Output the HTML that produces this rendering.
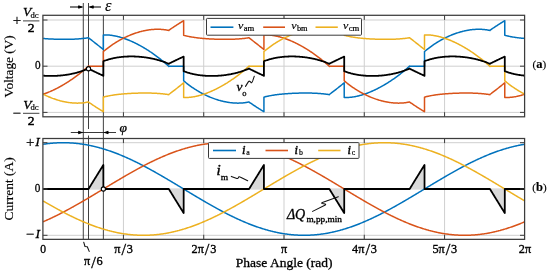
<!DOCTYPE html>
<html><head><meta charset="utf-8"><style>
html,body{margin:0;padding:0;background:#fff;}
body{width:550px;height:274px;overflow:hidden;position:relative;}
svg{position:absolute;left:0;top:0;}
</style></head><body>
<svg width="550" height="274" viewBox="0 0 550 274">
<rect width="550" height="274" fill="#fff"/>
<line x1="123.43" y1="15.30" x2="123.43" y2="116.80" stroke="#cfcfcf" stroke-width="1"/>
<line x1="203.72" y1="15.30" x2="203.72" y2="116.80" stroke="#cfcfcf" stroke-width="1"/>
<line x1="284.00" y1="15.30" x2="284.00" y2="116.80" stroke="#cfcfcf" stroke-width="1"/>
<line x1="364.28" y1="15.30" x2="364.28" y2="116.80" stroke="#cfcfcf" stroke-width="1"/>
<line x1="444.57" y1="15.30" x2="444.57" y2="116.80" stroke="#cfcfcf" stroke-width="1"/>
<line x1="42.90" y1="20.00" x2="524.60" y2="20.00" stroke="#cfcfcf" stroke-width="1"/>
<line x1="42.90" y1="66.20" x2="524.60" y2="66.20" stroke="#cfcfcf" stroke-width="1"/>
<line x1="42.90" y1="112.40" x2="524.60" y2="112.40" stroke="#cfcfcf" stroke-width="1"/>
<line x1="123.43" y1="138.50" x2="123.43" y2="239.35" stroke="#cfcfcf" stroke-width="1"/>
<line x1="203.72" y1="138.50" x2="203.72" y2="239.35" stroke="#cfcfcf" stroke-width="1"/>
<line x1="284.00" y1="138.50" x2="284.00" y2="239.35" stroke="#cfcfcf" stroke-width="1"/>
<line x1="364.28" y1="138.50" x2="364.28" y2="239.35" stroke="#cfcfcf" stroke-width="1"/>
<line x1="444.57" y1="138.50" x2="444.57" y2="239.35" stroke="#cfcfcf" stroke-width="1"/>
<line x1="42.90" y1="142.70" x2="524.60" y2="142.70" stroke="#cfcfcf" stroke-width="1"/>
<line x1="42.90" y1="189.00" x2="524.60" y2="189.00" stroke="#cfcfcf" stroke-width="1"/>
<line x1="42.90" y1="235.30" x2="524.60" y2="235.30" stroke="#cfcfcf" stroke-width="1"/>
<g stroke="#2a2a2a" stroke-width="0.9">
<line x1="83.29" y1="3" x2="83.29" y2="239.35"/>
<line x1="88.51" y1="3" x2="88.51" y2="129"/>
<line x1="88.51" y1="135.5" x2="88.51" y2="239.35"/>
<line x1="103.36" y1="15.30" x2="103.36" y2="239.35"/>
</g>
<g fill="none" stroke-width="1.5" stroke-linejoin="round">
<path d="M43.15 38.49L43.83 38.54L44.50 38.60L45.18 38.65L45.86 38.70L46.54 38.75L47.21 38.79L47.89 38.83L48.57 38.88L49.24 38.92L49.92 38.95L50.60 38.99L51.27 39.02L51.95 39.06L52.63 39.09L53.31 39.12L53.98 39.14L54.66 39.17L55.34 39.19L56.01 39.21L56.69 39.24L57.37 39.26L58.04 39.27L58.72 39.29L59.40 39.30L60.08 39.32L60.75 39.33L61.43 39.34L62.11 39.35L62.78 39.35L63.46 39.36L64.14 39.36L64.81 39.36L65.49 39.36L66.17 39.36L66.85 39.35L67.52 39.34L68.20 39.34L68.88 39.33L69.55 39.31L70.23 39.30L70.91 39.28L71.58 39.26L72.26 39.24L72.94 39.21L73.62 39.19L74.29 39.16L74.97 39.12L75.65 39.09L76.32 39.05L77.00 39.01L77.68 38.96L78.35 38.92L79.03 38.86L79.71 38.81L80.39 38.75L81.06 38.69L81.74 38.62L82.42 38.55L83.09 38.48L83.77 38.40L84.45 38.32L85.13 38.23L85.80 38.14L86.48 38.04L87.16 37.94L87.83 37.83L88.51 37.72L88.51 37.90L89.19 38.41L89.86 38.92L90.54 39.43L91.21 39.95L91.89 40.47L92.56 40.99L93.24 41.51L93.91 42.03L94.59 42.56L95.26 43.09L95.94 43.62L96.61 44.15L97.29 44.68L97.96 45.22L98.64 45.75L99.31 46.29L99.99 46.83L100.66 47.37L101.34 47.91L102.01 48.46L102.69 49.00L103.36 49.55L103.36 34.95L104.04 34.93L104.71 34.92L105.39 34.91L106.06 34.92L106.74 34.94L107.41 34.97L108.08 35.01L108.76 35.05L109.43 35.11L110.11 35.18L110.78 35.25L111.46 35.34L112.13 35.43L112.81 35.53L113.48 35.64L114.16 35.76L114.83 35.89L115.50 36.03L116.18 36.17L116.85 36.32L117.53 36.48L118.20 36.65L118.88 36.83L119.55 37.01L120.23 37.20L120.90 37.39L121.58 37.60L122.25 37.81L122.92 38.03L123.60 38.25L124.27 38.48L124.95 38.72L125.62 38.96L126.30 39.21L126.97 39.47L127.65 39.73L128.32 40.00L129.00 40.28L129.67 40.56L130.34 40.84L131.02 41.14L131.69 41.44L132.37 41.74L133.04 42.05L133.72 42.36L134.39 42.69L135.07 43.01L135.74 43.34L136.42 43.68L137.09 44.03L137.76 44.37L138.44 44.73L139.11 45.09L139.79 45.45L140.46 45.82L141.14 46.20L141.81 46.58L142.49 46.96L143.16 47.35L143.84 47.75L144.51 48.15L145.18 48.56L145.86 48.97L146.53 49.38L147.21 49.81L147.88 50.23L148.56 50.67L149.23 51.11L149.91 51.55L150.58 52.00L151.26 52.45L151.93 52.91L152.60 53.38L153.28 53.85L153.95 54.33L154.63 54.81L155.30 55.30L155.98 55.79L156.65 56.29L157.33 56.80L158.00 57.31L158.68 57.83L159.35 58.35L160.02 58.88L160.70 59.42L161.37 59.96L162.05 60.51L162.72 61.06L163.40 61.63L164.07 62.20L164.75 62.77L165.42 63.36L166.10 63.95L166.77 64.54L167.44 65.15L168.12 65.76L168.79 66.38L168.79 66.20L169.47 66.20L170.14 66.20L170.82 66.20L171.49 66.20L172.17 66.20L172.84 66.20L173.52 66.20L174.19 66.20L174.87 66.20L175.54 66.20L176.22 66.20L176.89 66.20L177.57 66.20L178.24 66.20L178.92 66.20L179.60 66.20L180.27 66.20L180.95 66.20L181.62 66.20L182.30 66.20L182.97 66.20L183.65 66.20L183.65 80.80L184.32 81.37L184.99 81.93L185.67 82.48L186.34 83.02L187.02 83.56L187.69 84.08L188.37 84.60L189.04 85.11L189.72 85.61L190.39 86.10L191.07 86.58L191.74 87.05L192.41 87.52L193.09 87.98L193.76 88.43L194.44 88.87L195.11 89.30L195.79 89.73L196.46 90.15L197.14 90.56L197.81 90.96L198.49 91.36L199.16 91.75L199.83 92.14L200.51 92.51L201.18 92.88L201.86 93.24L202.53 93.60L203.21 93.95L203.88 94.29L204.56 94.62L205.23 94.95L205.91 95.27L206.58 95.59L207.25 95.90L207.93 96.20L208.60 96.50L209.28 96.79L209.95 97.07L210.63 97.35L211.30 97.62L211.98 97.88L212.65 98.14L213.33 98.39L214.00 98.64L214.67 98.88L215.35 99.11L216.02 99.34L216.70 99.56L217.37 99.77L218.05 99.98L218.72 100.19L219.40 100.38L220.07 100.57L220.75 100.75L221.42 100.93L222.09 101.10L222.77 101.26L223.44 101.42L224.12 101.57L224.79 101.72L225.47 101.85L226.14 101.99L226.82 102.11L227.49 102.23L228.17 102.34L228.84 102.44L229.51 102.54L230.19 102.63L230.86 102.71L231.54 102.79L232.21 102.85L232.89 102.92L233.56 102.97L234.24 103.01L234.91 103.05L235.59 103.08L236.26 103.11L236.93 103.12L237.61 103.13L238.28 103.13L238.96 103.12L239.63 103.10L240.31 103.07L240.98 103.04L241.66 103.00L242.33 102.94L243.01 102.88L243.68 102.81L244.35 102.73L245.03 102.64L245.70 102.54L246.38 102.44L247.05 102.32L247.73 102.19L248.40 102.05L249.08 101.90L249.08 102.08L249.75 102.55L250.43 103.02L251.10 103.48L251.78 103.94L252.45 104.40L253.13 104.85L253.80 105.30L254.48 105.75L255.15 106.20L255.83 106.64L256.50 107.08L257.18 107.52L257.85 107.95L258.53 108.38L259.20 108.80L259.88 109.23L260.55 109.65L261.23 110.06L261.90 110.48L262.58 110.88L263.25 111.29L263.93 111.69L263.93 97.10L264.60 96.92L265.28 96.76L265.95 96.60L266.63 96.44L267.30 96.29L267.98 96.15L268.65 96.01L269.33 95.87L270.00 95.74L270.67 95.62L271.35 95.50L272.02 95.38L272.70 95.27L273.37 95.16L274.05 95.06L274.72 94.96L275.40 94.86L276.07 94.77L276.75 94.68L277.42 94.59L278.09 94.51L278.77 94.43L279.44 94.36L280.12 94.28L280.79 94.21L281.47 94.14L282.14 94.08L282.82 94.02L283.49 93.96L284.17 93.90L284.84 93.84L285.51 93.79L286.19 93.74L286.86 93.69L287.54 93.64L288.21 93.60L288.89 93.56L289.56 93.52L290.24 93.48L290.91 93.44L291.59 93.40L292.26 93.37L292.93 93.34L293.61 93.31L294.28 93.28L294.96 93.25L295.63 93.23L296.31 93.20L296.98 93.18L297.66 93.16L298.33 93.14L299.01 93.12L299.68 93.11L300.35 93.09L301.03 93.08L301.70 93.07L302.38 93.06L303.05 93.05L303.73 93.05L304.40 93.04L305.08 93.04L305.75 93.04L306.43 93.04L307.10 93.04L307.77 93.05L308.45 93.06L309.12 93.06L309.80 93.08L310.47 93.09L311.15 93.10L311.82 93.12L312.50 93.14L313.17 93.16L313.85 93.19L314.52 93.22L315.19 93.25L315.87 93.28L316.54 93.31L317.22 93.35L317.89 93.39L318.57 93.44L319.24 93.49L319.92 93.54L320.59 93.59L321.27 93.65L321.94 93.71L322.61 93.78L323.29 93.85L323.96 93.93L324.64 94.00L325.31 94.09L325.99 94.17L326.66 94.27L327.34 94.36L328.01 94.46L328.69 94.57L329.36 94.68L329.36 94.50L330.04 93.99L330.71 93.48L331.39 92.97L332.06 92.45L332.74 91.93L333.41 91.41L334.09 90.89L334.76 90.37L335.44 89.84L336.11 89.31L336.79 88.78L337.46 88.25L338.14 87.72L338.81 87.18L339.49 86.65L340.16 86.11L340.84 85.57L341.51 85.03L342.19 84.49L342.86 83.94L343.54 83.40L344.21 82.85L344.21 97.45L344.89 97.47L345.56 97.48L346.24 97.49L346.91 97.48L347.59 97.46L348.26 97.43L348.93 97.39L349.61 97.35L350.28 97.29L350.96 97.22L351.63 97.15L352.31 97.06L352.98 96.97L353.66 96.87L354.33 96.76L355.01 96.64L355.68 96.51L356.35 96.37L357.03 96.23L357.70 96.08L358.38 95.92L359.05 95.75L359.73 95.57L360.40 95.39L361.08 95.20L361.75 95.01L362.43 94.80L363.10 94.59L363.77 94.37L364.45 94.15L365.12 93.92L365.80 93.68L366.47 93.44L367.15 93.19L367.82 92.93L368.50 92.67L369.17 92.40L369.85 92.12L370.52 91.84L371.19 91.56L371.87 91.26L372.54 90.96L373.22 90.66L373.89 90.35L374.57 90.04L375.24 89.71L375.92 89.39L376.59 89.06L377.27 88.72L377.94 88.37L378.61 88.03L379.29 87.67L379.96 87.31L380.64 86.95L381.31 86.58L381.99 86.20L382.66 85.82L383.34 85.44L384.01 85.05L384.69 84.65L385.36 84.25L386.03 83.84L386.71 83.43L387.38 83.02L388.06 82.59L388.73 82.17L389.41 81.73L390.08 81.29L390.76 80.85L391.43 80.40L392.11 79.95L392.78 79.49L393.45 79.02L394.13 78.55L394.80 78.07L395.48 77.59L396.15 77.10L396.83 76.61L397.50 76.11L398.18 75.60L398.85 75.09L399.53 74.57L400.20 74.05L400.87 73.52L401.55 72.98L402.22 72.44L402.90 71.89L403.57 71.34L404.25 70.77L404.92 70.20L405.60 69.63L406.27 69.04L406.95 68.45L407.62 67.86L408.29 67.25L408.97 66.64L409.64 66.02L409.64 66.20L410.32 66.20L410.99 66.20L411.67 66.20L412.34 66.20L413.02 66.20L413.69 66.20L414.37 66.20L415.04 66.20L415.72 66.20L416.39 66.20L417.07 66.20L417.74 66.20L418.42 66.20L419.09 66.20L419.77 66.20L420.45 66.20L421.12 66.20L421.80 66.20L422.47 66.20L423.15 66.20L423.82 66.20L424.50 66.20L424.50 51.60L425.17 51.03L425.84 50.47L426.52 49.92L427.19 49.38L427.87 48.84L428.54 48.32L429.22 47.80L429.89 47.29L430.57 46.79L431.24 46.30L431.92 45.82L432.59 45.35L433.26 44.88L433.94 44.42L434.61 43.97L435.29 43.53L435.96 43.10L436.64 42.67L437.31 42.25L437.99 41.84L438.66 41.44L439.34 41.04L440.01 40.65L440.68 40.26L441.36 39.89L442.03 39.52L442.71 39.16L443.38 38.80L444.06 38.45L444.73 38.11L445.41 37.78L446.08 37.45L446.76 37.13L447.43 36.81L448.10 36.50L448.78 36.20L449.45 35.90L450.13 35.61L450.80 35.33L451.48 35.05L452.15 34.78L452.83 34.52L453.50 34.26L454.18 34.01L454.85 33.76L455.52 33.52L456.20 33.29L456.87 33.06L457.55 32.84L458.22 32.63L458.90 32.42L459.57 32.21L460.25 32.02L460.92 31.83L461.60 31.65L462.27 31.47L462.94 31.30L463.62 31.14L464.29 30.98L464.97 30.83L465.64 30.68L466.32 30.55L466.99 30.41L467.67 30.29L468.34 30.17L469.02 30.06L469.69 29.96L470.36 29.86L471.04 29.77L471.71 29.69L472.39 29.61L473.06 29.55L473.74 29.48L474.41 29.43L475.09 29.39L475.76 29.35L476.44 29.32L477.11 29.29L477.78 29.28L478.46 29.27L479.13 29.27L479.81 29.28L480.48 29.30L481.16 29.33L481.83 29.36L482.51 29.40L483.18 29.46L483.86 29.52L484.53 29.59L485.20 29.67L485.88 29.76L486.55 29.86L487.23 29.96L487.90 30.08L488.58 30.21L489.25 30.35L489.93 30.50L489.93 30.32L490.60 29.85L491.28 29.38L491.95 28.92L492.63 28.46L493.30 28.00L493.98 27.55L494.65 27.10L495.33 26.65L496.00 26.20L496.68 25.76L497.35 25.32L498.03 24.88L498.70 24.45L499.38 24.02L500.05 23.60L500.73 23.17L501.40 22.75L502.08 22.34L502.75 21.92L503.43 21.52L504.10 21.11L504.78 20.71L504.78 35.30L505.45 35.47L506.12 35.64L506.79 35.80L507.46 35.95L508.12 36.10L508.79 36.25L509.46 36.39L510.13 36.52L510.80 36.65L511.47 36.77L512.14 36.89L512.81 37.01L513.48 37.12L514.15 37.23L514.81 37.33L515.48 37.43L516.15 37.53L516.82 37.62L517.49 37.71L518.16 37.79L518.83 37.87L519.50 37.95L520.17 38.03L520.84 38.10L521.50 38.17L522.17 38.24L522.84 38.31L523.51 38.37L524.18 38.43L524.85 38.49" stroke="#0072BD"/>
<path d="M43.15 94.20L43.83 93.97L44.50 93.74L45.18 93.49L45.86 93.24L46.54 92.99L47.21 92.73L47.89 92.46L48.57 92.18L49.24 91.90L49.92 91.62L50.60 91.32L51.27 91.03L51.95 90.72L52.63 90.41L53.31 90.10L53.98 89.77L54.66 89.45L55.34 89.12L56.01 88.78L56.69 88.43L57.37 88.09L58.04 87.73L58.72 87.37L59.40 87.01L60.08 86.64L60.75 86.26L61.43 85.88L62.11 85.49L62.78 85.10L63.46 84.71L64.14 84.30L64.81 83.90L65.49 83.48L66.17 83.07L66.85 82.64L67.52 82.21L68.20 81.78L68.88 81.34L69.55 80.90L70.23 80.45L70.91 79.99L71.58 79.53L72.26 79.06L72.94 78.59L73.62 78.11L74.29 77.63L74.97 77.14L75.65 76.64L76.32 76.14L77.00 75.64L77.68 75.12L78.35 74.60L79.03 74.08L79.71 73.54L80.39 73.01L81.06 72.46L81.74 71.91L82.42 71.35L83.09 70.79L83.77 70.22L84.45 69.64L85.13 69.05L85.80 68.46L86.48 67.86L87.16 67.26L87.83 66.64L88.51 66.02L88.51 66.20L89.19 66.20L89.86 66.20L90.54 66.20L91.21 66.20L91.89 66.20L92.56 66.20L93.24 66.20L93.91 66.20L94.59 66.20L95.26 66.20L95.94 66.20L96.61 66.20L97.29 66.20L97.96 66.20L98.64 66.20L99.31 66.20L99.99 66.20L100.66 66.20L101.34 66.20L102.01 66.20L102.69 66.20L103.36 66.20L103.36 51.60L104.04 51.03L104.71 50.47L105.39 49.92L106.06 49.38L106.74 48.84L107.41 48.32L108.08 47.80L108.76 47.29L109.43 46.79L110.11 46.30L110.78 45.82L111.46 45.35L112.13 44.88L112.81 44.42L113.48 43.97L114.16 43.53L114.83 43.10L115.50 42.67L116.18 42.25L116.85 41.84L117.53 41.44L118.20 41.04L118.88 40.65L119.55 40.26L120.23 39.89L120.90 39.52L121.58 39.16L122.25 38.80L122.92 38.45L123.60 38.11L124.27 37.78L124.95 37.45L125.62 37.13L126.30 36.81L126.97 36.50L127.65 36.20L128.32 35.90L129.00 35.61L129.67 35.33L130.34 35.05L131.02 34.78L131.69 34.52L132.37 34.26L133.04 34.01L133.72 33.76L134.39 33.52L135.07 33.29L135.74 33.06L136.42 32.84L137.09 32.63L137.76 32.42L138.44 32.21L139.11 32.02L139.79 31.83L140.46 31.65L141.14 31.47L141.81 31.30L142.49 31.14L143.16 30.98L143.84 30.83L144.51 30.68L145.18 30.55L145.86 30.41L146.53 30.29L147.21 30.17L147.88 30.06L148.56 29.96L149.23 29.86L149.91 29.77L150.58 29.69L151.26 29.61L151.93 29.55L152.60 29.48L153.28 29.43L153.95 29.39L154.63 29.35L155.30 29.32L155.98 29.29L156.65 29.28L157.33 29.27L158.00 29.27L158.68 29.28L159.35 29.30L160.02 29.33L160.70 29.36L161.37 29.40L162.05 29.46L162.72 29.52L163.40 29.59L164.07 29.67L164.75 29.76L165.42 29.86L166.10 29.96L166.77 30.08L167.44 30.21L168.12 30.35L168.79 30.50L168.79 30.32L169.47 29.85L170.14 29.38L170.82 28.92L171.49 28.46L172.17 28.00L172.84 27.55L173.52 27.10L174.19 26.65L174.87 26.20L175.54 25.76L176.22 25.32L176.89 24.88L177.57 24.45L178.24 24.02L178.92 23.60L179.60 23.17L180.27 22.75L180.95 22.34L181.62 21.92L182.30 21.52L182.97 21.11L183.65 20.71L183.65 35.30L184.32 35.48L184.99 35.64L185.67 35.80L186.34 35.96L187.02 36.11L187.69 36.25L188.37 36.39L189.04 36.53L189.72 36.66L190.39 36.78L191.07 36.90L191.74 37.02L192.41 37.13L193.09 37.24L193.76 37.34L194.44 37.44L195.11 37.54L195.79 37.63L196.46 37.72L197.14 37.81L197.81 37.89L198.49 37.97L199.16 38.04L199.83 38.12L200.51 38.19L201.18 38.26L201.86 38.32L202.53 38.38L203.21 38.44L203.88 38.50L204.56 38.56L205.23 38.61L205.91 38.66L206.58 38.71L207.25 38.76L207.93 38.80L208.60 38.84L209.28 38.88L209.95 38.92L210.63 38.96L211.30 39.00L211.98 39.03L212.65 39.06L213.33 39.09L214.00 39.12L214.67 39.15L215.35 39.17L216.02 39.20L216.70 39.22L217.37 39.24L218.05 39.26L218.72 39.28L219.40 39.29L220.07 39.31L220.75 39.32L221.42 39.33L222.09 39.34L222.77 39.35L223.44 39.35L224.12 39.36L224.79 39.36L225.47 39.36L226.14 39.36L226.82 39.36L227.49 39.35L228.17 39.34L228.84 39.34L229.51 39.32L230.19 39.31L230.86 39.30L231.54 39.28L232.21 39.26L232.89 39.24L233.56 39.21L234.24 39.18L234.91 39.15L235.59 39.12L236.26 39.09L236.93 39.05L237.61 39.01L238.28 38.96L238.96 38.91L239.63 38.86L240.31 38.81L240.98 38.75L241.66 38.69L242.33 38.62L243.01 38.55L243.68 38.47L244.35 38.40L245.03 38.31L245.70 38.23L246.38 38.13L247.05 38.04L247.73 37.94L248.40 37.83L249.08 37.72L249.08 37.90L249.75 38.41L250.43 38.92L251.10 39.43L251.78 39.95L252.45 40.47L253.13 40.99L253.80 41.51L254.48 42.03L255.15 42.56L255.83 43.09L256.50 43.62L257.18 44.15L257.85 44.68L258.53 45.22L259.20 45.75L259.88 46.29L260.55 46.83L261.23 47.37L261.90 47.91L262.58 48.46L263.25 49.00L263.93 49.55L263.93 34.95L264.60 34.93L265.28 34.92L265.95 34.91L266.63 34.92L267.30 34.94L267.98 34.97L268.65 35.01L269.33 35.05L270.00 35.11L270.67 35.18L271.35 35.25L272.02 35.34L272.70 35.43L273.37 35.53L274.05 35.64L274.72 35.76L275.40 35.89L276.07 36.03L276.75 36.17L277.42 36.32L278.09 36.48L278.77 36.65L279.44 36.83L280.12 37.01L280.79 37.20L281.47 37.39L282.14 37.60L282.82 37.81L283.49 38.03L284.17 38.25L284.84 38.48L285.51 38.72L286.19 38.96L286.86 39.21L287.54 39.47L288.21 39.73L288.89 40.00L289.56 40.28L290.24 40.56L290.91 40.84L291.59 41.14L292.26 41.44L292.93 41.74L293.61 42.05L294.28 42.36L294.96 42.69L295.63 43.01L296.31 43.34L296.98 43.68L297.66 44.03L298.33 44.37L299.01 44.73L299.68 45.09L300.35 45.45L301.03 45.82L301.70 46.20L302.38 46.58L303.05 46.96L303.73 47.35L304.40 47.75L305.08 48.15L305.75 48.56L306.43 48.97L307.10 49.38L307.77 49.81L308.45 50.23L309.12 50.67L309.80 51.11L310.47 51.55L311.15 52.00L311.82 52.45L312.50 52.91L313.17 53.38L313.85 53.85L314.52 54.33L315.19 54.81L315.87 55.30L316.54 55.79L317.22 56.29L317.89 56.80L318.57 57.31L319.24 57.83L319.92 58.35L320.59 58.88L321.27 59.42L321.94 59.96L322.61 60.51L323.29 61.06L323.96 61.63L324.64 62.20L325.31 62.77L325.99 63.36L326.66 63.95L327.34 64.54L328.01 65.15L328.69 65.76L329.36 66.38L329.36 66.20L330.04 66.20L330.71 66.20L331.39 66.20L332.06 66.20L332.74 66.20L333.41 66.20L334.09 66.20L334.76 66.20L335.44 66.20L336.11 66.20L336.79 66.20L337.46 66.20L338.14 66.20L338.81 66.20L339.49 66.20L340.16 66.20L340.84 66.20L341.51 66.20L342.19 66.20L342.86 66.20L343.54 66.20L344.21 66.20L344.21 80.80L344.89 81.37L345.56 81.93L346.24 82.48L346.91 83.02L347.59 83.56L348.26 84.08L348.93 84.60L349.61 85.11L350.28 85.61L350.96 86.10L351.63 86.58L352.31 87.05L352.98 87.52L353.66 87.98L354.33 88.43L355.01 88.87L355.68 89.30L356.35 89.73L357.03 90.15L357.70 90.56L358.38 90.96L359.05 91.36L359.73 91.75L360.40 92.14L361.08 92.51L361.75 92.88L362.43 93.24L363.10 93.60L363.77 93.95L364.45 94.29L365.12 94.62L365.80 94.95L366.47 95.27L367.15 95.59L367.82 95.90L368.50 96.20L369.17 96.50L369.85 96.79L370.52 97.07L371.19 97.35L371.87 97.62L372.54 97.88L373.22 98.14L373.89 98.39L374.57 98.64L375.24 98.88L375.92 99.11L376.59 99.34L377.27 99.56L377.94 99.77L378.61 99.98L379.29 100.19L379.96 100.38L380.64 100.57L381.31 100.75L381.99 100.93L382.66 101.10L383.34 101.26L384.01 101.42L384.69 101.57L385.36 101.72L386.03 101.85L386.71 101.99L387.38 102.11L388.06 102.23L388.73 102.34L389.41 102.44L390.08 102.54L390.76 102.63L391.43 102.71L392.11 102.79L392.78 102.85L393.45 102.92L394.13 102.97L394.80 103.01L395.48 103.05L396.15 103.08L396.83 103.11L397.50 103.12L398.18 103.13L398.85 103.13L399.53 103.12L400.20 103.10L400.87 103.07L401.55 103.04L402.22 103.00L402.90 102.94L403.57 102.88L404.25 102.81L404.92 102.73L405.60 102.64L406.27 102.54L406.95 102.44L407.62 102.32L408.29 102.19L408.97 102.05L409.64 101.90L409.64 102.08L410.32 102.55L410.99 103.02L411.67 103.48L412.34 103.94L413.02 104.40L413.69 104.85L414.37 105.30L415.04 105.75L415.72 106.20L416.39 106.64L417.07 107.08L417.74 107.52L418.42 107.95L419.09 108.38L419.77 108.80L420.45 109.23L421.12 109.65L421.80 110.06L422.47 110.48L423.15 110.88L423.82 111.29L424.50 111.69L424.50 97.10L425.17 96.92L425.84 96.76L426.52 96.60L427.19 96.44L427.87 96.29L428.54 96.15L429.22 96.01L429.89 95.87L430.57 95.74L431.24 95.62L431.92 95.50L432.59 95.38L433.26 95.27L433.94 95.16L434.61 95.06L435.29 94.96L435.96 94.86L436.64 94.77L437.31 94.68L437.99 94.59L438.66 94.51L439.34 94.43L440.01 94.36L440.68 94.28L441.36 94.21L442.03 94.14L442.71 94.08L443.38 94.02L444.06 93.96L444.73 93.90L445.41 93.84L446.08 93.79L446.76 93.74L447.43 93.69L448.10 93.64L448.78 93.60L449.45 93.56L450.13 93.52L450.80 93.48L451.48 93.44L452.15 93.40L452.83 93.37L453.50 93.34L454.18 93.31L454.85 93.28L455.52 93.25L456.20 93.23L456.87 93.20L457.55 93.18L458.22 93.16L458.90 93.14L459.57 93.12L460.25 93.11L460.92 93.09L461.60 93.08L462.27 93.07L462.94 93.06L463.62 93.05L464.29 93.05L464.97 93.04L465.64 93.04L466.32 93.04L466.99 93.04L467.67 93.04L468.34 93.05L469.02 93.06L469.69 93.06L470.36 93.08L471.04 93.09L471.71 93.10L472.39 93.12L473.06 93.14L473.74 93.16L474.41 93.19L475.09 93.22L475.76 93.25L476.44 93.28L477.11 93.31L477.78 93.35L478.46 93.39L479.13 93.44L479.81 93.49L480.48 93.54L481.16 93.59L481.83 93.65L482.51 93.71L483.18 93.78L483.86 93.85L484.53 93.93L485.20 94.00L485.88 94.09L486.55 94.17L487.23 94.27L487.90 94.36L488.58 94.46L489.25 94.57L489.93 94.68L489.93 94.50L490.60 93.99L491.28 93.48L491.95 92.97L492.63 92.45L493.30 91.93L493.98 91.41L494.65 90.89L495.33 90.37L496.00 89.84L496.68 89.31L497.35 88.78L498.03 88.25L498.70 87.72L499.38 87.18L500.05 86.65L500.73 86.11L501.40 85.57L502.08 85.03L502.75 84.49L503.43 83.94L504.10 83.40L504.78 82.85L504.78 97.45L505.45 97.47L506.12 97.48L506.79 97.49L507.46 97.48L508.12 97.46L508.79 97.43L509.46 97.40L510.13 97.35L510.80 97.29L511.47 97.23L512.14 97.15L512.81 97.07L513.48 96.98L514.15 96.88L514.81 96.77L515.48 96.65L516.15 96.53L516.82 96.39L517.49 96.25L518.16 96.10L518.83 95.94L519.50 95.78L520.17 95.61L520.84 95.43L521.50 95.24L522.17 95.05L522.84 94.85L523.51 94.64L524.18 94.43L524.85 94.20" stroke="#D95319"/>
<path d="M43.15 94.20L43.83 94.54L44.50 94.87L45.18 95.20L45.86 95.52L46.54 95.83L47.21 96.13L47.89 96.43L48.57 96.72L49.24 97.01L49.92 97.29L50.60 97.56L51.27 97.83L51.95 98.09L52.63 98.35L53.31 98.59L53.98 98.83L54.66 99.07L55.34 99.30L56.01 99.52L56.69 99.74L57.37 99.95L58.04 100.15L58.72 100.35L59.40 100.54L60.08 100.73L60.75 100.90L61.43 101.08L62.11 101.24L62.78 101.40L63.46 101.55L64.14 101.70L64.81 101.84L65.49 101.97L66.17 102.09L66.85 102.21L67.52 102.33L68.20 102.43L68.88 102.53L69.55 102.62L70.23 102.70L70.91 102.78L71.58 102.85L72.26 102.91L72.94 102.96L73.62 103.01L74.29 103.05L74.97 103.08L75.65 103.11L76.32 103.12L77.00 103.13L77.68 103.13L78.35 103.12L79.03 103.10L79.71 103.08L80.39 103.04L81.06 103.00L81.74 102.95L82.42 102.88L83.09 102.81L83.77 102.73L84.45 102.64L85.13 102.55L85.80 102.44L86.48 102.32L87.16 102.19L87.83 102.05L88.51 101.90L88.51 102.08L89.19 102.55L89.86 103.02L90.54 103.48L91.21 103.94L91.89 104.40L92.56 104.85L93.24 105.30L93.91 105.75L94.59 106.20L95.26 106.64L95.94 107.08L96.61 107.52L97.29 107.95L97.96 108.38L98.64 108.80L99.31 109.23L99.99 109.65L100.66 110.06L101.34 110.48L102.01 110.88L102.69 111.29L103.36 111.69L103.36 97.10L104.04 96.92L104.71 96.76L105.39 96.60L106.06 96.44L106.74 96.29L107.41 96.15L108.08 96.01L108.76 95.87L109.43 95.74L110.11 95.62L110.78 95.50L111.46 95.38L112.13 95.27L112.81 95.16L113.48 95.06L114.16 94.96L114.83 94.86L115.50 94.77L116.18 94.68L116.85 94.59L117.53 94.51L118.20 94.43L118.88 94.36L119.55 94.28L120.23 94.21L120.90 94.14L121.58 94.08L122.25 94.02L122.92 93.96L123.60 93.90L124.27 93.84L124.95 93.79L125.62 93.74L126.30 93.69L126.97 93.64L127.65 93.60L128.32 93.56L129.00 93.52L129.67 93.48L130.34 93.44L131.02 93.40L131.69 93.37L132.37 93.34L133.04 93.31L133.72 93.28L134.39 93.25L135.07 93.23L135.74 93.20L136.42 93.18L137.09 93.16L137.76 93.14L138.44 93.12L139.11 93.11L139.79 93.09L140.46 93.08L141.14 93.07L141.81 93.06L142.49 93.05L143.16 93.05L143.84 93.04L144.51 93.04L145.18 93.04L145.86 93.04L146.53 93.04L147.21 93.05L147.88 93.06L148.56 93.06L149.23 93.08L149.91 93.09L150.58 93.10L151.26 93.12L151.93 93.14L152.60 93.16L153.28 93.19L153.95 93.22L154.63 93.25L155.30 93.28L155.98 93.31L156.65 93.35L157.33 93.39L158.00 93.44L158.68 93.49L159.35 93.54L160.02 93.59L160.70 93.65L161.37 93.71L162.05 93.78L162.72 93.85L163.40 93.93L164.07 94.00L164.75 94.09L165.42 94.17L166.10 94.27L166.77 94.36L167.44 94.46L168.12 94.57L168.79 94.68L168.79 94.50L169.47 93.99L170.14 93.48L170.82 92.97L171.49 92.45L172.17 91.93L172.84 91.41L173.52 90.89L174.19 90.37L174.87 89.84L175.54 89.31L176.22 88.78L176.89 88.25L177.57 87.72L178.24 87.18L178.92 86.65L179.60 86.11L180.27 85.57L180.95 85.03L181.62 84.49L182.30 83.94L182.97 83.40L183.65 82.85L183.65 97.45L184.32 97.47L184.99 97.48L185.67 97.49L186.34 97.48L187.02 97.46L187.69 97.43L188.37 97.39L189.04 97.35L189.72 97.29L190.39 97.22L191.07 97.15L191.74 97.06L192.41 96.97L193.09 96.87L193.76 96.76L194.44 96.64L195.11 96.51L195.79 96.37L196.46 96.23L197.14 96.08L197.81 95.92L198.49 95.75L199.16 95.57L199.83 95.39L200.51 95.20L201.18 95.01L201.86 94.80L202.53 94.59L203.21 94.37L203.88 94.15L204.56 93.92L205.23 93.68L205.91 93.44L206.58 93.19L207.25 92.93L207.93 92.67L208.60 92.40L209.28 92.12L209.95 91.84L210.63 91.56L211.30 91.26L211.98 90.96L212.65 90.66L213.33 90.35L214.00 90.04L214.67 89.71L215.35 89.39L216.02 89.06L216.70 88.72L217.37 88.37L218.05 88.03L218.72 87.67L219.40 87.31L220.07 86.95L220.75 86.58L221.42 86.20L222.09 85.82L222.77 85.44L223.44 85.05L224.12 84.65L224.79 84.25L225.47 83.84L226.14 83.43L226.82 83.02L227.49 82.59L228.17 82.17L228.84 81.73L229.51 81.29L230.19 80.85L230.86 80.40L231.54 79.95L232.21 79.49L232.89 79.02L233.56 78.55L234.24 78.07L234.91 77.59L235.59 77.10L236.26 76.61L236.93 76.11L237.61 75.60L238.28 75.09L238.96 74.57L239.63 74.05L240.31 73.52L240.98 72.98L241.66 72.44L242.33 71.89L243.01 71.34L243.68 70.77L244.35 70.20L245.03 69.63L245.70 69.04L246.38 68.45L247.05 67.86L247.73 67.25L248.40 66.64L249.08 66.02L249.08 66.20L249.75 66.20L250.43 66.20L251.10 66.20L251.78 66.20L252.45 66.20L253.13 66.20L253.80 66.20L254.48 66.20L255.15 66.20L255.83 66.20L256.50 66.20L257.18 66.20L257.85 66.20L258.53 66.20L259.20 66.20L259.88 66.20L260.55 66.20L261.23 66.20L261.90 66.20L262.58 66.20L263.25 66.20L263.93 66.20L263.93 51.60L264.60 51.03L265.28 50.47L265.95 49.92L266.63 49.38L267.30 48.84L267.98 48.32L268.65 47.80L269.33 47.29L270.00 46.79L270.67 46.30L271.35 45.82L272.02 45.35L272.70 44.88L273.37 44.42L274.05 43.97L274.72 43.53L275.40 43.10L276.07 42.67L276.75 42.25L277.42 41.84L278.09 41.44L278.77 41.04L279.44 40.65L280.12 40.26L280.79 39.89L281.47 39.52L282.14 39.16L282.82 38.80L283.49 38.45L284.17 38.11L284.84 37.78L285.51 37.45L286.19 37.13L286.86 36.81L287.54 36.50L288.21 36.20L288.89 35.90L289.56 35.61L290.24 35.33L290.91 35.05L291.59 34.78L292.26 34.52L292.93 34.26L293.61 34.01L294.28 33.76L294.96 33.52L295.63 33.29L296.31 33.06L296.98 32.84L297.66 32.63L298.33 32.42L299.01 32.21L299.68 32.02L300.35 31.83L301.03 31.65L301.70 31.47L302.38 31.30L303.05 31.14L303.73 30.98L304.40 30.83L305.08 30.68L305.75 30.55L306.43 30.41L307.10 30.29L307.77 30.17L308.45 30.06L309.12 29.96L309.80 29.86L310.47 29.77L311.15 29.69L311.82 29.61L312.50 29.55L313.17 29.48L313.85 29.43L314.52 29.39L315.19 29.35L315.87 29.32L316.54 29.29L317.22 29.28L317.89 29.27L318.57 29.27L319.24 29.28L319.92 29.30L320.59 29.33L321.27 29.36L321.94 29.40L322.61 29.46L323.29 29.52L323.96 29.59L324.64 29.67L325.31 29.76L325.99 29.86L326.66 29.96L327.34 30.08L328.01 30.21L328.69 30.35L329.36 30.50L329.36 30.32L330.04 29.85L330.71 29.38L331.39 28.92L332.06 28.46L332.74 28.00L333.41 27.55L334.09 27.10L334.76 26.65L335.44 26.20L336.11 25.76L336.79 25.32L337.46 24.88L338.14 24.45L338.81 24.02L339.49 23.60L340.16 23.17L340.84 22.75L341.51 22.34L342.19 21.92L342.86 21.52L343.54 21.11L344.21 20.71L344.21 35.30L344.89 35.48L345.56 35.64L346.24 35.80L346.91 35.96L347.59 36.11L348.26 36.25L348.93 36.39L349.61 36.53L350.28 36.66L350.96 36.78L351.63 36.90L352.31 37.02L352.98 37.13L353.66 37.24L354.33 37.34L355.01 37.44L355.68 37.54L356.35 37.63L357.03 37.72L357.70 37.81L358.38 37.89L359.05 37.97L359.73 38.04L360.40 38.12L361.08 38.19L361.75 38.26L362.43 38.32L363.10 38.38L363.77 38.44L364.45 38.50L365.12 38.56L365.80 38.61L366.47 38.66L367.15 38.71L367.82 38.76L368.50 38.80L369.17 38.84L369.85 38.88L370.52 38.92L371.19 38.96L371.87 39.00L372.54 39.03L373.22 39.06L373.89 39.09L374.57 39.12L375.24 39.15L375.92 39.17L376.59 39.20L377.27 39.22L377.94 39.24L378.61 39.26L379.29 39.28L379.96 39.29L380.64 39.31L381.31 39.32L381.99 39.33L382.66 39.34L383.34 39.35L384.01 39.35L384.69 39.36L385.36 39.36L386.03 39.36L386.71 39.36L387.38 39.36L388.06 39.35L388.73 39.34L389.41 39.34L390.08 39.32L390.76 39.31L391.43 39.30L392.11 39.28L392.78 39.26L393.45 39.24L394.13 39.21L394.80 39.18L395.48 39.15L396.15 39.12L396.83 39.09L397.50 39.05L398.18 39.01L398.85 38.96L399.53 38.91L400.20 38.86L400.87 38.81L401.55 38.75L402.22 38.69L402.90 38.62L403.57 38.55L404.25 38.47L404.92 38.40L405.60 38.31L406.27 38.23L406.95 38.13L407.62 38.04L408.29 37.94L408.97 37.83L409.64 37.72L409.64 37.90L410.32 38.41L410.99 38.92L411.67 39.43L412.34 39.95L413.02 40.47L413.69 40.99L414.37 41.51L415.04 42.03L415.72 42.56L416.39 43.09L417.07 43.62L417.74 44.15L418.42 44.68L419.09 45.22L419.77 45.75L420.45 46.29L421.12 46.83L421.80 47.37L422.47 47.91L423.15 48.46L423.82 49.00L424.50 49.55L424.50 34.95L425.17 34.93L425.84 34.92L426.52 34.91L427.19 34.92L427.87 34.94L428.54 34.97L429.22 35.01L429.89 35.05L430.57 35.11L431.24 35.18L431.92 35.25L432.59 35.34L433.26 35.43L433.94 35.53L434.61 35.64L435.29 35.76L435.96 35.89L436.64 36.03L437.31 36.17L437.99 36.32L438.66 36.48L439.34 36.65L440.01 36.83L440.68 37.01L441.36 37.20L442.03 37.39L442.71 37.60L443.38 37.81L444.06 38.03L444.73 38.25L445.41 38.48L446.08 38.72L446.76 38.96L447.43 39.21L448.10 39.47L448.78 39.73L449.45 40.00L450.13 40.28L450.80 40.56L451.48 40.84L452.15 41.14L452.83 41.44L453.50 41.74L454.18 42.05L454.85 42.36L455.52 42.69L456.20 43.01L456.87 43.34L457.55 43.68L458.22 44.03L458.90 44.37L459.57 44.73L460.25 45.09L460.92 45.45L461.60 45.82L462.27 46.20L462.94 46.58L463.62 46.96L464.29 47.35L464.97 47.75L465.64 48.15L466.32 48.56L466.99 48.97L467.67 49.38L468.34 49.81L469.02 50.23L469.69 50.67L470.36 51.11L471.04 51.55L471.71 52.00L472.39 52.45L473.06 52.91L473.74 53.38L474.41 53.85L475.09 54.33L475.76 54.81L476.44 55.30L477.11 55.79L477.78 56.29L478.46 56.80L479.13 57.31L479.81 57.83L480.48 58.35L481.16 58.88L481.83 59.42L482.51 59.96L483.18 60.51L483.86 61.06L484.53 61.63L485.20 62.20L485.88 62.77L486.55 63.36L487.23 63.95L487.90 64.54L488.58 65.15L489.25 65.76L489.93 66.38L489.93 66.20L490.60 66.20L491.28 66.20L491.95 66.20L492.63 66.20L493.30 66.20L493.98 66.20L494.65 66.20L495.33 66.20L496.00 66.20L496.68 66.20L497.35 66.20L498.03 66.20L498.70 66.20L499.38 66.20L500.05 66.20L500.73 66.20L501.40 66.20L502.08 66.20L502.75 66.20L503.43 66.20L504.10 66.20L504.78 66.20L504.78 80.80L505.45 81.36L506.12 81.92L506.79 82.47L507.46 83.01L508.12 83.54L508.79 84.06L509.46 84.57L510.13 85.07L510.80 85.57L511.47 86.06L512.14 86.54L512.81 87.01L513.48 87.47L514.15 87.92L514.81 88.37L515.48 88.81L516.15 89.24L516.82 89.67L517.49 90.08L518.16 90.49L518.83 90.90L519.50 91.29L520.17 91.68L520.84 92.06L521.50 92.43L522.17 92.80L522.84 93.16L523.51 93.52L524.18 93.86L524.85 94.20" stroke="#EDB120"/>
<path d="M43.15 75.63L43.83 75.69L44.50 75.74L45.18 75.78L45.86 75.82L46.54 75.85L47.21 75.88L47.89 75.91L48.57 75.93L49.24 75.94L49.92 75.95L50.60 75.96L51.27 75.96L51.95 75.96L52.63 75.95L53.31 75.93L53.98 75.92L54.66 75.90L55.34 75.87L56.01 75.84L56.69 75.80L57.37 75.76L58.04 75.72L58.72 75.67L59.40 75.62L60.08 75.56L60.75 75.50L61.43 75.43L62.11 75.36L62.78 75.28L63.46 75.20L64.14 75.12L64.81 75.03L65.49 74.94L66.17 74.84L66.85 74.74L67.52 74.63L68.20 74.52L68.88 74.40L69.55 74.28L70.23 74.15L70.91 74.02L71.58 73.88L72.26 73.74L72.94 73.59L73.62 73.44L74.29 73.28L74.97 73.11L75.65 72.95L76.32 72.77L77.00 72.59L77.68 72.40L78.35 72.21L79.03 72.01L79.71 71.81L80.39 71.60L81.06 71.38L81.74 71.16L82.42 70.93L83.09 70.69L83.77 70.45L84.45 70.20L85.13 69.94L85.80 69.68L86.48 69.41L87.16 69.13L87.83 68.84L88.51 68.55L88.51 68.73L89.19 69.05L89.86 69.38L90.54 69.70L91.21 70.03L91.89 70.36L92.56 70.68L93.24 71.00L93.91 71.33L94.59 71.65L95.26 71.98L95.94 72.30L96.61 72.62L97.29 72.94L97.96 73.26L98.64 73.59L99.31 73.91L99.99 74.23L100.66 74.54L101.34 74.86L102.01 75.18L102.69 75.50L103.36 75.81L103.36 61.22L104.04 60.96L104.71 60.71L105.39 60.48L106.06 60.25L106.74 60.02L107.41 59.81L108.08 59.60L108.76 59.41L109.43 59.22L110.11 59.03L110.78 58.86L111.46 58.69L112.13 58.53L112.81 58.37L113.48 58.23L114.16 58.08L114.83 57.95L115.50 57.82L116.18 57.70L116.85 57.59L117.53 57.48L118.20 57.37L118.88 57.28L119.55 57.19L120.23 57.10L120.90 57.02L121.58 56.94L122.25 56.88L122.92 56.81L123.60 56.75L124.27 56.70L124.95 56.65L125.62 56.61L126.30 56.57L126.97 56.54L127.65 56.51L128.32 56.49L129.00 56.47L129.67 56.45L130.34 56.45L131.02 56.44L131.69 56.44L132.37 56.45L133.04 56.45L133.72 56.47L134.39 56.49L135.07 56.51L135.74 56.54L136.42 56.57L137.09 56.60L137.76 56.64L138.44 56.69L139.11 56.74L139.79 56.79L140.46 56.85L141.14 56.91L141.81 56.98L142.49 57.05L143.16 57.13L143.84 57.21L144.51 57.29L145.18 57.38L145.86 57.47L146.53 57.57L147.21 57.68L147.88 57.78L148.56 57.90L149.23 58.01L149.91 58.14L150.58 58.26L151.26 58.40L151.93 58.53L152.60 58.68L153.28 58.82L153.95 58.98L154.63 59.13L155.30 59.30L155.98 59.47L156.65 59.64L157.33 59.82L158.00 60.01L158.68 60.20L159.35 60.40L160.02 60.60L160.70 60.81L161.37 61.03L162.05 61.25L162.72 61.48L163.40 61.71L164.07 61.96L164.75 62.21L165.42 62.46L166.10 62.73L166.77 63.00L167.44 63.27L168.12 63.56L168.79 63.85L168.79 63.67L169.47 63.35L170.14 63.02L170.82 62.70L171.49 62.37L172.17 62.04L172.84 61.72L173.52 61.40L174.19 61.07L174.87 60.75L175.54 60.42L176.22 60.10L176.89 59.78L177.57 59.46L178.24 59.14L178.92 58.81L179.60 58.49L180.27 58.17L180.95 57.86L181.62 57.54L182.30 57.22L182.97 56.90L183.65 56.59L183.65 71.18L184.32 71.44L184.99 71.69L185.67 71.92L186.34 72.15L187.02 72.38L187.69 72.59L188.37 72.80L189.04 72.99L189.72 73.18L190.39 73.37L191.07 73.54L191.74 73.71L192.41 73.87L193.09 74.03L193.76 74.17L194.44 74.32L195.11 74.45L195.79 74.58L196.46 74.70L197.14 74.81L197.81 74.92L198.49 75.03L199.16 75.12L199.83 75.21L200.51 75.30L201.18 75.38L201.86 75.46L202.53 75.52L203.21 75.59L203.88 75.65L204.56 75.70L205.23 75.75L205.91 75.79L206.58 75.83L207.25 75.86L207.93 75.89L208.60 75.91L209.28 75.93L209.95 75.95L210.63 75.95L211.30 75.96L211.98 75.96L212.65 75.95L213.33 75.95L214.00 75.93L214.67 75.91L215.35 75.89L216.02 75.86L216.70 75.83L217.37 75.80L218.05 75.76L218.72 75.71L219.40 75.66L220.07 75.61L220.75 75.55L221.42 75.49L222.09 75.42L222.77 75.35L223.44 75.27L224.12 75.19L224.79 75.11L225.47 75.02L226.14 74.93L226.82 74.83L227.49 74.72L228.17 74.62L228.84 74.50L229.51 74.39L230.19 74.26L230.86 74.14L231.54 74.00L232.21 73.87L232.89 73.72L233.56 73.58L234.24 73.42L234.91 73.27L235.59 73.10L236.26 72.93L236.93 72.76L237.61 72.58L238.28 72.39L238.96 72.20L239.63 72.00L240.31 71.80L240.98 71.59L241.66 71.37L242.33 71.15L243.01 70.92L243.68 70.69L244.35 70.44L245.03 70.19L245.70 69.94L246.38 69.67L247.05 69.40L247.73 69.13L248.40 68.84L249.08 68.55L249.08 68.73L249.75 69.05L250.43 69.38L251.10 69.70L251.78 70.03L252.45 70.36L253.13 70.68L253.80 71.00L254.48 71.33L255.15 71.65L255.83 71.98L256.50 72.30L257.18 72.62L257.85 72.94L258.53 73.26L259.20 73.59L259.88 73.91L260.55 74.23L261.23 74.54L261.90 74.86L262.58 75.18L263.25 75.50L263.93 75.81L263.93 61.22L264.60 60.96L265.28 60.71L265.95 60.48L266.63 60.25L267.30 60.02L267.98 59.81L268.65 59.60L269.33 59.41L270.00 59.22L270.67 59.03L271.35 58.86L272.02 58.69L272.70 58.53L273.37 58.37L274.05 58.23L274.72 58.08L275.40 57.95L276.07 57.82L276.75 57.70L277.42 57.59L278.09 57.48L278.77 57.37L279.44 57.28L280.12 57.19L280.79 57.10L281.47 57.02L282.14 56.94L282.82 56.88L283.49 56.81L284.17 56.75L284.84 56.70L285.51 56.65L286.19 56.61L286.86 56.57L287.54 56.54L288.21 56.51L288.89 56.49L289.56 56.47L290.24 56.45L290.91 56.45L291.59 56.44L292.26 56.44L292.93 56.45L293.61 56.45L294.28 56.47L294.96 56.49L295.63 56.51L296.31 56.54L296.98 56.57L297.66 56.60L298.33 56.64L299.01 56.69L299.68 56.74L300.35 56.79L301.03 56.85L301.70 56.91L302.38 56.98L303.05 57.05L303.73 57.13L304.40 57.21L305.08 57.29L305.75 57.38L306.43 57.47L307.10 57.57L307.77 57.68L308.45 57.78L309.12 57.90L309.80 58.01L310.47 58.14L311.15 58.26L311.82 58.40L312.50 58.53L313.17 58.68L313.85 58.82L314.52 58.98L315.19 59.13L315.87 59.30L316.54 59.47L317.22 59.64L317.89 59.82L318.57 60.01L319.24 60.20L319.92 60.40L320.59 60.60L321.27 60.81L321.94 61.03L322.61 61.25L323.29 61.48L323.96 61.71L324.64 61.96L325.31 62.21L325.99 62.46L326.66 62.73L327.34 63.00L328.01 63.27L328.69 63.56L329.36 63.85L329.36 63.67L330.04 63.35L330.71 63.02L331.39 62.70L332.06 62.37L332.74 62.04L333.41 61.72L334.09 61.40L334.76 61.07L335.44 60.75L336.11 60.42L336.79 60.10L337.46 59.78L338.14 59.46L338.81 59.14L339.49 58.81L340.16 58.49L340.84 58.17L341.51 57.86L342.19 57.54L342.86 57.22L343.54 56.90L344.21 56.59L344.21 71.18L344.89 71.44L345.56 71.69L346.24 71.92L346.91 72.15L347.59 72.38L348.26 72.59L348.93 72.80L349.61 72.99L350.28 73.18L350.96 73.37L351.63 73.54L352.31 73.71L352.98 73.87L353.66 74.03L354.33 74.17L355.01 74.32L355.68 74.45L356.35 74.58L357.03 74.70L357.70 74.81L358.38 74.92L359.05 75.03L359.73 75.12L360.40 75.21L361.08 75.30L361.75 75.38L362.43 75.46L363.10 75.52L363.77 75.59L364.45 75.65L365.12 75.70L365.80 75.75L366.47 75.79L367.15 75.83L367.82 75.86L368.50 75.89L369.17 75.91L369.85 75.93L370.52 75.95L371.19 75.95L371.87 75.96L372.54 75.96L373.22 75.95L373.89 75.95L374.57 75.93L375.24 75.91L375.92 75.89L376.59 75.86L377.27 75.83L377.94 75.80L378.61 75.76L379.29 75.71L379.96 75.66L380.64 75.61L381.31 75.55L381.99 75.49L382.66 75.42L383.34 75.35L384.01 75.27L384.69 75.19L385.36 75.11L386.03 75.02L386.71 74.93L387.38 74.83L388.06 74.72L388.73 74.62L389.41 74.50L390.08 74.39L390.76 74.26L391.43 74.14L392.11 74.00L392.78 73.87L393.45 73.72L394.13 73.58L394.80 73.42L395.48 73.27L396.15 73.10L396.83 72.93L397.50 72.76L398.18 72.58L398.85 72.39L399.53 72.20L400.20 72.00L400.87 71.80L401.55 71.59L402.22 71.37L402.90 71.15L403.57 70.92L404.25 70.69L404.92 70.44L405.60 70.19L406.27 69.94L406.95 69.67L407.62 69.40L408.29 69.13L408.97 68.84L409.64 68.55L409.64 68.73L410.32 69.05L410.99 69.38L411.67 69.70L412.34 70.03L413.02 70.36L413.69 70.68L414.37 71.00L415.04 71.33L415.72 71.65L416.39 71.98L417.07 72.30L417.74 72.62L418.42 72.94L419.09 73.26L419.77 73.59L420.45 73.91L421.12 74.23L421.80 74.54L422.47 74.86L423.15 75.18L423.82 75.50L424.50 75.81L424.50 61.22L425.17 60.96L425.84 60.71L426.52 60.48L427.19 60.25L427.87 60.02L428.54 59.81L429.22 59.60L429.89 59.41L430.57 59.22L431.24 59.03L431.92 58.86L432.59 58.69L433.26 58.53L433.94 58.37L434.61 58.23L435.29 58.08L435.96 57.95L436.64 57.82L437.31 57.70L437.99 57.59L438.66 57.48L439.34 57.37L440.01 57.28L440.68 57.19L441.36 57.10L442.03 57.02L442.71 56.94L443.38 56.88L444.06 56.81L444.73 56.75L445.41 56.70L446.08 56.65L446.76 56.61L447.43 56.57L448.10 56.54L448.78 56.51L449.45 56.49L450.13 56.47L450.80 56.45L451.48 56.45L452.15 56.44L452.83 56.44L453.50 56.45L454.18 56.45L454.85 56.47L455.52 56.49L456.20 56.51L456.87 56.54L457.55 56.57L458.22 56.60L458.90 56.64L459.57 56.69L460.25 56.74L460.92 56.79L461.60 56.85L462.27 56.91L462.94 56.98L463.62 57.05L464.29 57.13L464.97 57.21L465.64 57.29L466.32 57.38L466.99 57.47L467.67 57.57L468.34 57.68L469.02 57.78L469.69 57.90L470.36 58.01L471.04 58.14L471.71 58.26L472.39 58.40L473.06 58.53L473.74 58.68L474.41 58.82L475.09 58.98L475.76 59.13L476.44 59.30L477.11 59.47L477.78 59.64L478.46 59.82L479.13 60.01L479.81 60.20L480.48 60.40L481.16 60.60L481.83 60.81L482.51 61.03L483.18 61.25L483.86 61.48L484.53 61.71L485.20 61.96L485.88 62.21L486.55 62.46L487.23 62.73L487.90 63.00L488.58 63.27L489.25 63.56L489.93 63.85L489.93 63.67L490.60 63.35L491.28 63.02L491.95 62.70L492.63 62.37L493.30 62.04L493.98 61.72L494.65 61.40L495.33 61.07L496.00 60.75L496.68 60.42L497.35 60.10L498.03 59.78L498.70 59.46L499.38 59.14L500.05 58.81L500.73 58.49L501.40 58.17L502.08 57.86L502.75 57.54L503.43 57.22L504.10 56.90L504.78 56.59L504.78 71.18L505.45 71.44L506.12 71.68L506.79 71.92L507.46 72.15L508.12 72.37L508.79 72.58L509.46 72.78L510.13 72.98L510.80 73.17L511.47 73.35L512.14 73.53L512.81 73.70L513.48 73.86L514.15 74.01L514.81 74.16L515.48 74.30L516.15 74.43L516.82 74.56L517.49 74.68L518.16 74.80L518.83 74.90L519.50 75.01L520.17 75.11L520.84 75.20L521.50 75.28L522.17 75.36L522.84 75.44L523.51 75.51L524.18 75.57L524.85 75.63" stroke="#000" stroke-width="1.8"/>
</g>
<line x1="123.43" y1="15.30" x2="123.43" y2="19.90" stroke="#3c3c3c" stroke-width="1"/>
<line x1="123.43" y1="116.80" x2="123.43" y2="112.20" stroke="#3c3c3c" stroke-width="1"/>
<line x1="203.72" y1="15.30" x2="203.72" y2="19.90" stroke="#3c3c3c" stroke-width="1"/>
<line x1="203.72" y1="116.80" x2="203.72" y2="112.20" stroke="#3c3c3c" stroke-width="1"/>
<line x1="284.00" y1="15.30" x2="284.00" y2="19.90" stroke="#3c3c3c" stroke-width="1"/>
<line x1="284.00" y1="116.80" x2="284.00" y2="112.20" stroke="#3c3c3c" stroke-width="1"/>
<line x1="364.28" y1="15.30" x2="364.28" y2="19.90" stroke="#3c3c3c" stroke-width="1"/>
<line x1="364.28" y1="116.80" x2="364.28" y2="112.20" stroke="#3c3c3c" stroke-width="1"/>
<line x1="444.57" y1="15.30" x2="444.57" y2="19.90" stroke="#3c3c3c" stroke-width="1"/>
<line x1="444.57" y1="116.80" x2="444.57" y2="112.20" stroke="#3c3c3c" stroke-width="1"/>
<line x1="42.90" y1="20.00" x2="47.50" y2="20.00" stroke="#3c3c3c" stroke-width="1"/>
<line x1="524.60" y1="20.00" x2="520.00" y2="20.00" stroke="#3c3c3c" stroke-width="1"/>
<line x1="42.90" y1="66.20" x2="47.50" y2="66.20" stroke="#3c3c3c" stroke-width="1"/>
<line x1="524.60" y1="66.20" x2="520.00" y2="66.20" stroke="#3c3c3c" stroke-width="1"/>
<line x1="42.90" y1="112.40" x2="47.50" y2="112.40" stroke="#3c3c3c" stroke-width="1"/>
<line x1="524.60" y1="112.40" x2="520.00" y2="112.40" stroke="#3c3c3c" stroke-width="1"/>
<rect x="42.90" y="15.30" width="481.70" height="101.50" fill="none" stroke="#3c3c3c" stroke-width="1.25"/>
<polygon points="88.51,189.00 102.46,166.38 102.46,189.00" fill="#dadada"/>
<polygon points="168.79,189.00 182.75,211.62 182.75,189.00" fill="#dadada"/>
<polygon points="249.08,189.00 263.03,166.38 263.03,189.00" fill="#dadada"/>
<polygon points="329.36,189.00 343.31,211.62 343.31,189.00" fill="#dadada"/>
<polygon points="409.64,189.00 423.60,166.38 423.60,189.00" fill="#dadada"/>
<polygon points="489.93,189.00 503.88,211.62 503.88,189.00" fill="#dadada"/>
<g fill="none" stroke-width="1.5" stroke-linejoin="round">
<path d="M43.15 144.28L43.82 144.17L44.49 144.08L45.16 143.98L45.83 143.89L46.50 143.80L47.16 143.71L47.83 143.63L48.50 143.55L49.17 143.48L49.84 143.40L50.51 143.33L51.18 143.27L51.85 143.21L52.52 143.15L53.19 143.10L53.85 143.05L54.52 143.00L55.19 142.95L55.86 142.91L56.53 142.88L57.20 142.84L57.87 142.81L58.54 142.79L59.21 142.76L59.88 142.74L60.54 142.73L61.21 142.72L61.88 142.71L62.55 142.70L63.22 142.70L63.89 142.70L64.56 142.71L65.23 142.72L65.90 142.73L66.57 142.74L67.23 142.76L67.90 142.79L68.57 142.81L69.24 142.84L69.91 142.88L70.58 142.91L71.25 142.95L71.92 143.00L72.59 143.05L73.26 143.10L73.93 143.15L74.59 143.21L75.26 143.27L75.93 143.33L76.60 143.40L77.27 143.48L77.94 143.55L78.61 143.63L79.28 143.71L79.95 143.80L80.62 143.89L81.28 143.98L81.95 144.08L82.62 144.17L83.29 144.28L83.96 144.38L84.63 144.49L85.30 144.61L85.97 144.72L86.64 144.84L87.31 144.97L87.97 145.09L88.64 145.22L89.31 145.36L89.98 145.49L90.65 145.63L91.32 145.78L91.99 145.92L92.66 146.07L93.33 146.22L94.00 146.38L94.67 146.54L95.33 146.70L96.00 146.87L96.67 147.04L97.34 147.21L98.01 147.39L98.68 147.56L99.35 147.75L100.02 147.93L100.69 148.12L101.36 148.31L102.02 148.51L102.69 148.70L103.36 148.90L104.03 149.11L104.70 149.31L105.37 149.52L106.04 149.74L106.71 149.95L107.38 150.17L108.05 150.39L108.71 150.62L109.38 150.84L110.05 151.07L110.72 151.31L111.39 151.54L112.06 151.78L112.73 152.02L113.40 152.27L114.07 152.52L114.74 152.77L115.41 153.02L116.07 153.27L116.74 153.53L117.41 153.79L118.08 154.06L118.75 154.32L119.42 154.59L120.09 154.86L120.76 155.14L121.43 155.42L122.10 155.69L122.76 155.98L123.43 156.26L124.10 156.55L124.77 156.84L125.44 157.13L126.11 157.42L126.78 157.72L127.45 158.02L128.12 158.32L128.79 158.62L129.45 158.93L130.12 159.24L130.79 159.55L131.46 159.86L132.13 160.18L132.80 160.49L133.47 160.81L134.14 161.14L134.81 161.46L135.48 161.79L136.14 162.11L136.81 162.44L137.48 162.78L138.15 163.11L138.82 163.45L139.49 163.78L140.16 164.12L140.83 164.46L141.50 164.81L142.17 165.15L142.84 165.50L143.50 165.85L144.17 166.20L144.84 166.55L145.51 166.91L146.18 167.26L146.85 167.62L147.52 167.98L148.19 168.34L148.86 168.70L149.53 169.07L150.19 169.43L150.86 169.80L151.53 170.17L152.20 170.54L152.87 170.91L153.54 171.28L154.21 171.66L154.88 172.03L155.55 172.41L156.22 172.79L156.88 173.16L157.55 173.54L158.22 173.93L158.89 174.31L159.56 174.69L160.23 175.08L160.90 175.46L161.57 175.85L162.24 176.24L162.91 176.63L163.58 177.02L164.24 177.41L164.91 177.80L165.58 178.19L166.25 178.58L166.92 178.98L167.59 179.37L168.26 179.77L168.93 180.17L169.60 180.56L170.27 180.96L170.93 181.36L171.60 181.76L172.27 182.16L172.94 182.56L173.61 182.96L174.28 183.36L174.95 183.76L175.62 184.16L176.29 184.56L176.96 184.96L177.62 185.37L178.29 185.77L178.96 186.17L179.63 186.58L180.30 186.98L180.97 187.38L181.64 187.79L182.31 188.19L182.98 188.60L183.65 189.00L184.31 189.40L184.98 189.81L185.65 190.21L186.32 190.62L186.99 191.02L187.66 191.42L188.33 191.83L189.00 192.23L189.67 192.63L190.34 193.04L191.01 193.44L191.67 193.84L192.34 194.24L193.01 194.64L193.68 195.04L194.35 195.44L195.02 195.84L195.69 196.24L196.36 196.64L197.03 197.04L197.70 197.44L198.36 197.83L199.03 198.23L199.70 198.63L200.37 199.02L201.04 199.42L201.71 199.81L202.38 200.20L203.05 200.59L203.72 200.98L204.39 201.37L205.05 201.76L205.72 202.15L206.39 202.54L207.06 202.92L207.73 203.31L208.40 203.69L209.07 204.07L209.74 204.46L210.41 204.84L211.08 205.21L211.75 205.59L212.41 205.97L213.08 206.34L213.75 206.72L214.42 207.09L215.09 207.46L215.76 207.83L216.43 208.20L217.10 208.57L217.77 208.93L218.44 209.30L219.10 209.66L219.77 210.02L220.44 210.38L221.11 210.74L221.78 211.09L222.45 211.45L223.12 211.80L223.79 212.15L224.46 212.50L225.13 212.85L225.79 213.19L226.46 213.54L227.13 213.88L227.80 214.22L228.47 214.55L229.14 214.89L229.81 215.22L230.48 215.56L231.15 215.89L231.82 216.21L232.48 216.54L233.15 216.86L233.82 217.19L234.49 217.51L235.16 217.82L235.83 218.14L236.50 218.45L237.17 218.76L237.84 219.07L238.51 219.38L239.18 219.68L239.84 219.98L240.51 220.28L241.18 220.58L241.85 220.87L242.52 221.16L243.19 221.45L243.86 221.74L244.53 222.02L245.20 222.31L245.87 222.58L246.53 222.86L247.20 223.14L247.87 223.41L248.54 223.68L249.21 223.94L249.88 224.21L250.55 224.47L251.22 224.73L251.89 224.98L252.56 225.23L253.22 225.48L253.89 225.73L254.56 225.98L255.23 226.22L255.90 226.46L256.57 226.69L257.24 226.93L257.91 227.16L258.58 227.38L259.25 227.61L259.92 227.83L260.58 228.05L261.25 228.26L261.92 228.48L262.59 228.69L263.26 228.89L263.93 229.10L264.60 229.30L265.27 229.49L265.94 229.69L266.61 229.88L267.27 230.07L267.94 230.25L268.61 230.44L269.28 230.61L269.95 230.79L270.62 230.96L271.29 231.13L271.96 231.30L272.63 231.46L273.30 231.62L273.96 231.78L274.63 231.93L275.30 232.08L275.97 232.22L276.64 232.37L277.31 232.51L277.98 232.64L278.65 232.78L279.32 232.91L279.99 233.03L280.65 233.16L281.32 233.28L281.99 233.39L282.66 233.51L283.33 233.62L284.00 233.72L284.67 233.83L285.34 233.92L286.01 234.02L286.68 234.11L287.35 234.20L288.01 234.29L288.68 234.37L289.35 234.45L290.02 234.52L290.69 234.60L291.36 234.67L292.03 234.73L292.70 234.79L293.37 234.85L294.04 234.90L294.70 234.95L295.37 235.00L296.04 235.05L296.71 235.09L297.38 235.12L298.05 235.16L298.72 235.19L299.39 235.21L300.06 235.24L300.73 235.26L301.39 235.27L302.06 235.28L302.73 235.29L303.40 235.30L304.07 235.30L304.74 235.30L305.41 235.29L306.08 235.28L306.75 235.27L307.42 235.26L308.09 235.24L308.75 235.21L309.42 235.19L310.09 235.16L310.76 235.12L311.43 235.09L312.10 235.05L312.77 235.00L313.44 234.95L314.11 234.90L314.78 234.85L315.44 234.79L316.11 234.73L316.78 234.67L317.45 234.60L318.12 234.52L318.79 234.45L319.46 234.37L320.13 234.29L320.80 234.20L321.47 234.11L322.13 234.02L322.80 233.92L323.47 233.83L324.14 233.72L324.81 233.62L325.48 233.51L326.15 233.39L326.82 233.28L327.49 233.16L328.16 233.03L328.82 232.91L329.49 232.78L330.16 232.64L330.83 232.51L331.50 232.37L332.17 232.22L332.84 232.08L333.51 231.93L334.18 231.78L334.85 231.62L335.52 231.46L336.18 231.30L336.85 231.13L337.52 230.96L338.19 230.79L338.86 230.61L339.53 230.44L340.20 230.25L340.87 230.07L341.54 229.88L342.21 229.69L342.87 229.49L343.54 229.30L344.21 229.10L344.88 228.89L345.55 228.69L346.22 228.48L346.89 228.26L347.56 228.05L348.23 227.83L348.90 227.61L349.56 227.38L350.23 227.16L350.90 226.93L351.57 226.69L352.24 226.46L352.91 226.22L353.58 225.98L354.25 225.73L354.92 225.48L355.59 225.23L356.25 224.98L356.92 224.73L357.59 224.47L358.26 224.21L358.93 223.94L359.60 223.68L360.27 223.41L360.94 223.14L361.61 222.86L362.28 222.58L362.95 222.31L363.61 222.02L364.28 221.74L364.95 221.45L365.62 221.16L366.29 220.87L366.96 220.58L367.63 220.28L368.30 219.98L368.97 219.68L369.64 219.38L370.30 219.07L370.97 218.76L371.64 218.45L372.31 218.14L372.98 217.82L373.65 217.51L374.32 217.19L374.99 216.86L375.66 216.54L376.33 216.21L376.99 215.89L377.66 215.56L378.33 215.22L379.00 214.89L379.67 214.55L380.34 214.22L381.01 213.88L381.68 213.54L382.35 213.19L383.02 212.85L383.69 212.50L384.35 212.15L385.02 211.80L385.69 211.45L386.36 211.09L387.03 210.74L387.70 210.38L388.37 210.02L389.04 209.66L389.71 209.30L390.38 208.93L391.04 208.57L391.71 208.20L392.38 207.83L393.05 207.46L393.72 207.09L394.39 206.72L395.06 206.34L395.73 205.97L396.40 205.59L397.07 205.21L397.73 204.84L398.40 204.46L399.07 204.07L399.74 203.69L400.41 203.31L401.08 202.92L401.75 202.54L402.42 202.15L403.09 201.76L403.76 201.37L404.43 200.98L405.09 200.59L405.76 200.20L406.43 199.81L407.10 199.42L407.77 199.02L408.44 198.63L409.11 198.23L409.78 197.83L410.45 197.44L411.12 197.04L411.78 196.64L412.45 196.24L413.12 195.84L413.79 195.44L414.46 195.04L415.13 194.64L415.80 194.24L416.47 193.84L417.14 193.44L417.81 193.04L418.47 192.63L419.14 192.23L419.81 191.83L420.48 191.42L421.15 191.02L421.82 190.62L422.49 190.21L423.16 189.81L423.83 189.40L424.50 189.00L425.16 188.60L425.83 188.19L426.50 187.79L427.17 187.38L427.84 186.98L428.51 186.58L429.18 186.17L429.85 185.77L430.52 185.37L431.19 184.96L431.86 184.56L432.52 184.16L433.19 183.76L433.86 183.36L434.53 182.96L435.20 182.56L435.87 182.16L436.54 181.76L437.21 181.36L437.88 180.96L438.55 180.56L439.21 180.17L439.88 179.77L440.55 179.37L441.22 178.98L441.89 178.58L442.56 178.19L443.23 177.80L443.90 177.41L444.57 177.02L445.24 176.63L445.90 176.24L446.57 175.85L447.24 175.46L447.91 175.08L448.58 174.69L449.25 174.31L449.92 173.93L450.59 173.54L451.26 173.16L451.93 172.79L452.60 172.41L453.26 172.03L453.93 171.66L454.60 171.28L455.27 170.91L455.94 170.54L456.61 170.17L457.28 169.80L457.95 169.43L458.62 169.07L459.29 168.70L459.95 168.34L460.62 167.98L461.29 167.62L461.96 167.26L462.63 166.91L463.30 166.55L463.97 166.20L464.64 165.85L465.31 165.50L465.98 165.15L466.64 164.81L467.31 164.46L467.98 164.12L468.65 163.78L469.32 163.45L469.99 163.11L470.66 162.78L471.33 162.44L472.00 162.11L472.67 161.79L473.33 161.46L474.00 161.14L474.67 160.81L475.34 160.49L476.01 160.18L476.68 159.86L477.35 159.55L478.02 159.24L478.69 158.93L479.36 158.62L480.03 158.32L480.69 158.02L481.36 157.72L482.03 157.42L482.70 157.13L483.37 156.84L484.04 156.55L484.71 156.26L485.38 155.98L486.05 155.69L486.72 155.42L487.38 155.14L488.05 154.86L488.72 154.59L489.39 154.32L490.06 154.06L490.73 153.79L491.40 153.53L492.07 153.27L492.74 153.02L493.41 152.77L494.07 152.52L494.74 152.27L495.41 152.02L496.08 151.78L496.75 151.54L497.42 151.31L498.09 151.07L498.76 150.84L499.43 150.62L500.10 150.39L500.76 150.17L501.43 149.95L502.10 149.74L502.77 149.52L503.44 149.31L504.11 149.11L504.78 148.90L505.45 148.70L506.12 148.51L506.79 148.31L507.46 148.12L508.12 147.93L508.79 147.75L509.46 147.56L510.13 147.39L510.80 147.21L511.47 147.04L512.14 146.87L512.81 146.70L513.48 146.54L514.15 146.38L514.81 146.22L515.48 146.07L516.15 145.92L516.82 145.78L517.49 145.63L518.16 145.49L518.83 145.36L519.50 145.22L520.17 145.09L520.84 144.97L521.50 144.84L522.17 144.72L522.84 144.61L523.51 144.49L524.18 144.38L524.85 144.28" stroke="#0072BD"/>
<path d="M43.15 221.74L43.82 221.45L44.49 221.16L45.16 220.87L45.83 220.58L46.50 220.28L47.16 219.98L47.83 219.68L48.50 219.38L49.17 219.07L49.84 218.76L50.51 218.45L51.18 218.14L51.85 217.82L52.52 217.51L53.19 217.19L53.85 216.86L54.52 216.54L55.19 216.21L55.86 215.89L56.53 215.56L57.20 215.22L57.87 214.89L58.54 214.55L59.21 214.22L59.88 213.88L60.54 213.54L61.21 213.19L61.88 212.85L62.55 212.50L63.22 212.15L63.89 211.80L64.56 211.45L65.23 211.09L65.90 210.74L66.57 210.38L67.23 210.02L67.90 209.66L68.57 209.30L69.24 208.93L69.91 208.57L70.58 208.20L71.25 207.83L71.92 207.46L72.59 207.09L73.26 206.72L73.93 206.34L74.59 205.97L75.26 205.59L75.93 205.21L76.60 204.84L77.27 204.46L77.94 204.07L78.61 203.69L79.28 203.31L79.95 202.92L80.62 202.54L81.28 202.15L81.95 201.76L82.62 201.37L83.29 200.98L83.96 200.59L84.63 200.20L85.30 199.81L85.97 199.42L86.64 199.02L87.31 198.63L87.97 198.23L88.64 197.83L89.31 197.44L89.98 197.04L90.65 196.64L91.32 196.24L91.99 195.84L92.66 195.44L93.33 195.04L94.00 194.64L94.67 194.24L95.33 193.84L96.00 193.44L96.67 193.04L97.34 192.63L98.01 192.23L98.68 191.83L99.35 191.42L100.02 191.02L100.69 190.62L101.36 190.21L102.02 189.81L102.69 189.40L103.36 189.00L104.03 188.60L104.70 188.19L105.37 187.79L106.04 187.38L106.71 186.98L107.38 186.58L108.05 186.17L108.71 185.77L109.38 185.37L110.05 184.96L110.72 184.56L111.39 184.16L112.06 183.76L112.73 183.36L113.40 182.96L114.07 182.56L114.74 182.16L115.41 181.76L116.07 181.36L116.74 180.96L117.41 180.56L118.08 180.17L118.75 179.77L119.42 179.37L120.09 178.98L120.76 178.58L121.43 178.19L122.10 177.80L122.76 177.41L123.43 177.02L124.10 176.63L124.77 176.24L125.44 175.85L126.11 175.46L126.78 175.08L127.45 174.69L128.12 174.31L128.79 173.93L129.45 173.54L130.12 173.16L130.79 172.79L131.46 172.41L132.13 172.03L132.80 171.66L133.47 171.28L134.14 170.91L134.81 170.54L135.48 170.17L136.14 169.80L136.81 169.43L137.48 169.07L138.15 168.70L138.82 168.34L139.49 167.98L140.16 167.62L140.83 167.26L141.50 166.91L142.17 166.55L142.84 166.20L143.50 165.85L144.17 165.50L144.84 165.15L145.51 164.81L146.18 164.46L146.85 164.12L147.52 163.78L148.19 163.45L148.86 163.11L149.53 162.78L150.19 162.44L150.86 162.11L151.53 161.79L152.20 161.46L152.87 161.14L153.54 160.81L154.21 160.49L154.88 160.18L155.55 159.86L156.22 159.55L156.88 159.24L157.55 158.93L158.22 158.62L158.89 158.32L159.56 158.02L160.23 157.72L160.90 157.42L161.57 157.13L162.24 156.84L162.91 156.55L163.58 156.26L164.24 155.98L164.91 155.69L165.58 155.42L166.25 155.14L166.92 154.86L167.59 154.59L168.26 154.32L168.93 154.06L169.60 153.79L170.27 153.53L170.93 153.27L171.60 153.02L172.27 152.77L172.94 152.52L173.61 152.27L174.28 152.02L174.95 151.78L175.62 151.54L176.29 151.31L176.96 151.07L177.62 150.84L178.29 150.62L178.96 150.39L179.63 150.17L180.30 149.95L180.97 149.74L181.64 149.52L182.31 149.31L182.98 149.11L183.65 148.90L184.31 148.70L184.98 148.51L185.65 148.31L186.32 148.12L186.99 147.93L187.66 147.75L188.33 147.56L189.00 147.39L189.67 147.21L190.34 147.04L191.01 146.87L191.67 146.70L192.34 146.54L193.01 146.38L193.68 146.22L194.35 146.07L195.02 145.92L195.69 145.78L196.36 145.63L197.03 145.49L197.70 145.36L198.36 145.22L199.03 145.09L199.70 144.97L200.37 144.84L201.04 144.72L201.71 144.61L202.38 144.49L203.05 144.38L203.72 144.28L204.39 144.17L205.05 144.08L205.72 143.98L206.39 143.89L207.06 143.80L207.73 143.71L208.40 143.63L209.07 143.55L209.74 143.48L210.41 143.40L211.08 143.33L211.75 143.27L212.41 143.21L213.08 143.15L213.75 143.10L214.42 143.05L215.09 143.00L215.76 142.95L216.43 142.91L217.10 142.88L217.77 142.84L218.44 142.81L219.10 142.79L219.77 142.76L220.44 142.74L221.11 142.73L221.78 142.72L222.45 142.71L223.12 142.70L223.79 142.70L224.46 142.70L225.13 142.71L225.79 142.72L226.46 142.73L227.13 142.74L227.80 142.76L228.47 142.79L229.14 142.81L229.81 142.84L230.48 142.88L231.15 142.91L231.82 142.95L232.48 143.00L233.15 143.05L233.82 143.10L234.49 143.15L235.16 143.21L235.83 143.27L236.50 143.33L237.17 143.40L237.84 143.48L238.51 143.55L239.18 143.63L239.84 143.71L240.51 143.80L241.18 143.89L241.85 143.98L242.52 144.08L243.19 144.17L243.86 144.28L244.53 144.38L245.20 144.49L245.87 144.61L246.53 144.72L247.20 144.84L247.87 144.97L248.54 145.09L249.21 145.22L249.88 145.36L250.55 145.49L251.22 145.63L251.89 145.78L252.56 145.92L253.22 146.07L253.89 146.22L254.56 146.38L255.23 146.54L255.90 146.70L256.57 146.87L257.24 147.04L257.91 147.21L258.58 147.39L259.25 147.56L259.92 147.75L260.58 147.93L261.25 148.12L261.92 148.31L262.59 148.51L263.26 148.70L263.93 148.90L264.60 149.11L265.27 149.31L265.94 149.52L266.61 149.74L267.27 149.95L267.94 150.17L268.61 150.39L269.28 150.62L269.95 150.84L270.62 151.07L271.29 151.31L271.96 151.54L272.63 151.78L273.30 152.02L273.96 152.27L274.63 152.52L275.30 152.77L275.97 153.02L276.64 153.27L277.31 153.53L277.98 153.79L278.65 154.06L279.32 154.32L279.99 154.59L280.65 154.86L281.32 155.14L281.99 155.42L282.66 155.69L283.33 155.98L284.00 156.26L284.67 156.55L285.34 156.84L286.01 157.13L286.68 157.42L287.35 157.72L288.01 158.02L288.68 158.32L289.35 158.62L290.02 158.93L290.69 159.24L291.36 159.55L292.03 159.86L292.70 160.18L293.37 160.49L294.04 160.81L294.70 161.14L295.37 161.46L296.04 161.79L296.71 162.11L297.38 162.44L298.05 162.78L298.72 163.11L299.39 163.45L300.06 163.78L300.73 164.12L301.39 164.46L302.06 164.81L302.73 165.15L303.40 165.50L304.07 165.85L304.74 166.20L305.41 166.55L306.08 166.91L306.75 167.26L307.42 167.62L308.09 167.98L308.75 168.34L309.42 168.70L310.09 169.07L310.76 169.43L311.43 169.80L312.10 170.17L312.77 170.54L313.44 170.91L314.11 171.28L314.78 171.66L315.44 172.03L316.11 172.41L316.78 172.79L317.45 173.16L318.12 173.54L318.79 173.93L319.46 174.31L320.13 174.69L320.80 175.08L321.47 175.46L322.13 175.85L322.80 176.24L323.47 176.63L324.14 177.02L324.81 177.41L325.48 177.80L326.15 178.19L326.82 178.58L327.49 178.98L328.16 179.37L328.82 179.77L329.49 180.17L330.16 180.56L330.83 180.96L331.50 181.36L332.17 181.76L332.84 182.16L333.51 182.56L334.18 182.96L334.85 183.36L335.52 183.76L336.18 184.16L336.85 184.56L337.52 184.96L338.19 185.37L338.86 185.77L339.53 186.17L340.20 186.58L340.87 186.98L341.54 187.38L342.21 187.79L342.87 188.19L343.54 188.60L344.21 189.00L344.88 189.40L345.55 189.81L346.22 190.21L346.89 190.62L347.56 191.02L348.23 191.42L348.90 191.83L349.56 192.23L350.23 192.63L350.90 193.04L351.57 193.44L352.24 193.84L352.91 194.24L353.58 194.64L354.25 195.04L354.92 195.44L355.59 195.84L356.25 196.24L356.92 196.64L357.59 197.04L358.26 197.44L358.93 197.83L359.60 198.23L360.27 198.63L360.94 199.02L361.61 199.42L362.28 199.81L362.95 200.20L363.61 200.59L364.28 200.98L364.95 201.37L365.62 201.76L366.29 202.15L366.96 202.54L367.63 202.92L368.30 203.31L368.97 203.69L369.64 204.07L370.30 204.46L370.97 204.84L371.64 205.21L372.31 205.59L372.98 205.97L373.65 206.34L374.32 206.72L374.99 207.09L375.66 207.46L376.33 207.83L376.99 208.20L377.66 208.57L378.33 208.93L379.00 209.30L379.67 209.66L380.34 210.02L381.01 210.38L381.68 210.74L382.35 211.09L383.02 211.45L383.69 211.80L384.35 212.15L385.02 212.50L385.69 212.85L386.36 213.19L387.03 213.54L387.70 213.88L388.37 214.22L389.04 214.55L389.71 214.89L390.38 215.22L391.04 215.56L391.71 215.89L392.38 216.21L393.05 216.54L393.72 216.86L394.39 217.19L395.06 217.51L395.73 217.82L396.40 218.14L397.07 218.45L397.73 218.76L398.40 219.07L399.07 219.38L399.74 219.68L400.41 219.98L401.08 220.28L401.75 220.58L402.42 220.87L403.09 221.16L403.76 221.45L404.43 221.74L405.09 222.02L405.76 222.31L406.43 222.58L407.10 222.86L407.77 223.14L408.44 223.41L409.11 223.68L409.78 223.94L410.45 224.21L411.12 224.47L411.78 224.73L412.45 224.98L413.12 225.23L413.79 225.48L414.46 225.73L415.13 225.98L415.80 226.22L416.47 226.46L417.14 226.69L417.81 226.93L418.47 227.16L419.14 227.38L419.81 227.61L420.48 227.83L421.15 228.05L421.82 228.26L422.49 228.48L423.16 228.69L423.83 228.89L424.50 229.10L425.16 229.30L425.83 229.49L426.50 229.69L427.17 229.88L427.84 230.07L428.51 230.25L429.18 230.44L429.85 230.61L430.52 230.79L431.19 230.96L431.86 231.13L432.52 231.30L433.19 231.46L433.86 231.62L434.53 231.78L435.20 231.93L435.87 232.08L436.54 232.22L437.21 232.37L437.88 232.51L438.55 232.64L439.21 232.78L439.88 232.91L440.55 233.03L441.22 233.16L441.89 233.28L442.56 233.39L443.23 233.51L443.90 233.62L444.57 233.72L445.24 233.83L445.90 233.92L446.57 234.02L447.24 234.11L447.91 234.20L448.58 234.29L449.25 234.37L449.92 234.45L450.59 234.52L451.26 234.60L451.93 234.67L452.60 234.73L453.26 234.79L453.93 234.85L454.60 234.90L455.27 234.95L455.94 235.00L456.61 235.05L457.28 235.09L457.95 235.12L458.62 235.16L459.29 235.19L459.95 235.21L460.62 235.24L461.29 235.26L461.96 235.27L462.63 235.28L463.30 235.29L463.97 235.30L464.64 235.30L465.31 235.30L465.98 235.29L466.64 235.28L467.31 235.27L467.98 235.26L468.65 235.24L469.32 235.21L469.99 235.19L470.66 235.16L471.33 235.12L472.00 235.09L472.67 235.05L473.33 235.00L474.00 234.95L474.67 234.90L475.34 234.85L476.01 234.79L476.68 234.73L477.35 234.67L478.02 234.60L478.69 234.52L479.36 234.45L480.03 234.37L480.69 234.29L481.36 234.20L482.03 234.11L482.70 234.02L483.37 233.92L484.04 233.83L484.71 233.72L485.38 233.62L486.05 233.51L486.72 233.39L487.38 233.28L488.05 233.16L488.72 233.03L489.39 232.91L490.06 232.78L490.73 232.64L491.40 232.51L492.07 232.37L492.74 232.22L493.41 232.08L494.07 231.93L494.74 231.78L495.41 231.62L496.08 231.46L496.75 231.30L497.42 231.13L498.09 230.96L498.76 230.79L499.43 230.61L500.10 230.44L500.76 230.25L501.43 230.07L502.10 229.88L502.77 229.69L503.44 229.49L504.11 229.30L504.78 229.10L505.45 228.89L506.12 228.69L506.79 228.48L507.46 228.26L508.12 228.05L508.79 227.83L509.46 227.61L510.13 227.38L510.80 227.16L511.47 226.93L512.14 226.69L512.81 226.46L513.48 226.22L514.15 225.98L514.81 225.73L515.48 225.48L516.15 225.23L516.82 224.98L517.49 224.73L518.16 224.47L518.83 224.21L519.50 223.94L520.17 223.68L520.84 223.41L521.50 223.14L522.17 222.86L522.84 222.58L523.51 222.31L524.18 222.02L524.85 221.74" stroke="#D95319"/>
<path d="M43.15 200.98L43.82 201.37L44.49 201.76L45.16 202.15L45.83 202.54L46.50 202.92L47.16 203.31L47.83 203.69L48.50 204.07L49.17 204.46L49.84 204.84L50.51 205.21L51.18 205.59L51.85 205.97L52.52 206.34L53.19 206.72L53.85 207.09L54.52 207.46L55.19 207.83L55.86 208.20L56.53 208.57L57.20 208.93L57.87 209.30L58.54 209.66L59.21 210.02L59.88 210.38L60.54 210.74L61.21 211.09L61.88 211.45L62.55 211.80L63.22 212.15L63.89 212.50L64.56 212.85L65.23 213.19L65.90 213.54L66.57 213.88L67.23 214.22L67.90 214.55L68.57 214.89L69.24 215.22L69.91 215.56L70.58 215.89L71.25 216.21L71.92 216.54L72.59 216.86L73.26 217.19L73.93 217.51L74.59 217.82L75.26 218.14L75.93 218.45L76.60 218.76L77.27 219.07L77.94 219.38L78.61 219.68L79.28 219.98L79.95 220.28L80.62 220.58L81.28 220.87L81.95 221.16L82.62 221.45L83.29 221.74L83.96 222.02L84.63 222.31L85.30 222.58L85.97 222.86L86.64 223.14L87.31 223.41L87.97 223.68L88.64 223.94L89.31 224.21L89.98 224.47L90.65 224.73L91.32 224.98L91.99 225.23L92.66 225.48L93.33 225.73L94.00 225.98L94.67 226.22L95.33 226.46L96.00 226.69L96.67 226.93L97.34 227.16L98.01 227.38L98.68 227.61L99.35 227.83L100.02 228.05L100.69 228.26L101.36 228.48L102.02 228.69L102.69 228.89L103.36 229.10L104.03 229.30L104.70 229.49L105.37 229.69L106.04 229.88L106.71 230.07L107.38 230.25L108.05 230.44L108.71 230.61L109.38 230.79L110.05 230.96L110.72 231.13L111.39 231.30L112.06 231.46L112.73 231.62L113.40 231.78L114.07 231.93L114.74 232.08L115.41 232.22L116.07 232.37L116.74 232.51L117.41 232.64L118.08 232.78L118.75 232.91L119.42 233.03L120.09 233.16L120.76 233.28L121.43 233.39L122.10 233.51L122.76 233.62L123.43 233.72L124.10 233.83L124.77 233.92L125.44 234.02L126.11 234.11L126.78 234.20L127.45 234.29L128.12 234.37L128.79 234.45L129.45 234.52L130.12 234.60L130.79 234.67L131.46 234.73L132.13 234.79L132.80 234.85L133.47 234.90L134.14 234.95L134.81 235.00L135.48 235.05L136.14 235.09L136.81 235.12L137.48 235.16L138.15 235.19L138.82 235.21L139.49 235.24L140.16 235.26L140.83 235.27L141.50 235.28L142.17 235.29L142.84 235.30L143.50 235.30L144.17 235.30L144.84 235.29L145.51 235.28L146.18 235.27L146.85 235.26L147.52 235.24L148.19 235.21L148.86 235.19L149.53 235.16L150.19 235.12L150.86 235.09L151.53 235.05L152.20 235.00L152.87 234.95L153.54 234.90L154.21 234.85L154.88 234.79L155.55 234.73L156.22 234.67L156.88 234.60L157.55 234.52L158.22 234.45L158.89 234.37L159.56 234.29L160.23 234.20L160.90 234.11L161.57 234.02L162.24 233.92L162.91 233.83L163.58 233.72L164.24 233.62L164.91 233.51L165.58 233.39L166.25 233.28L166.92 233.16L167.59 233.03L168.26 232.91L168.93 232.78L169.60 232.64L170.27 232.51L170.93 232.37L171.60 232.22L172.27 232.08L172.94 231.93L173.61 231.78L174.28 231.62L174.95 231.46L175.62 231.30L176.29 231.13L176.96 230.96L177.62 230.79L178.29 230.61L178.96 230.44L179.63 230.25L180.30 230.07L180.97 229.88L181.64 229.69L182.31 229.49L182.98 229.30L183.65 229.10L184.31 228.89L184.98 228.69L185.65 228.48L186.32 228.26L186.99 228.05L187.66 227.83L188.33 227.61L189.00 227.38L189.67 227.16L190.34 226.93L191.01 226.69L191.67 226.46L192.34 226.22L193.01 225.98L193.68 225.73L194.35 225.48L195.02 225.23L195.69 224.98L196.36 224.73L197.03 224.47L197.70 224.21L198.36 223.94L199.03 223.68L199.70 223.41L200.37 223.14L201.04 222.86L201.71 222.58L202.38 222.31L203.05 222.02L203.72 221.74L204.39 221.45L205.05 221.16L205.72 220.87L206.39 220.58L207.06 220.28L207.73 219.98L208.40 219.68L209.07 219.38L209.74 219.07L210.41 218.76L211.08 218.45L211.75 218.14L212.41 217.82L213.08 217.51L213.75 217.19L214.42 216.86L215.09 216.54L215.76 216.21L216.43 215.89L217.10 215.56L217.77 215.22L218.44 214.89L219.10 214.55L219.77 214.22L220.44 213.88L221.11 213.54L221.78 213.19L222.45 212.85L223.12 212.50L223.79 212.15L224.46 211.80L225.13 211.45L225.79 211.09L226.46 210.74L227.13 210.38L227.80 210.02L228.47 209.66L229.14 209.30L229.81 208.93L230.48 208.57L231.15 208.20L231.82 207.83L232.48 207.46L233.15 207.09L233.82 206.72L234.49 206.34L235.16 205.97L235.83 205.59L236.50 205.21L237.17 204.84L237.84 204.46L238.51 204.07L239.18 203.69L239.84 203.31L240.51 202.92L241.18 202.54L241.85 202.15L242.52 201.76L243.19 201.37L243.86 200.98L244.53 200.59L245.20 200.20L245.87 199.81L246.53 199.42L247.20 199.02L247.87 198.63L248.54 198.23L249.21 197.83L249.88 197.44L250.55 197.04L251.22 196.64L251.89 196.24L252.56 195.84L253.22 195.44L253.89 195.04L254.56 194.64L255.23 194.24L255.90 193.84L256.57 193.44L257.24 193.04L257.91 192.63L258.58 192.23L259.25 191.83L259.92 191.42L260.58 191.02L261.25 190.62L261.92 190.21L262.59 189.81L263.26 189.40L263.93 189.00L264.60 188.60L265.27 188.19L265.94 187.79L266.61 187.38L267.27 186.98L267.94 186.58L268.61 186.17L269.28 185.77L269.95 185.37L270.62 184.96L271.29 184.56L271.96 184.16L272.63 183.76L273.30 183.36L273.96 182.96L274.63 182.56L275.30 182.16L275.97 181.76L276.64 181.36L277.31 180.96L277.98 180.56L278.65 180.17L279.32 179.77L279.99 179.37L280.65 178.98L281.32 178.58L281.99 178.19L282.66 177.80L283.33 177.41L284.00 177.02L284.67 176.63L285.34 176.24L286.01 175.85L286.68 175.46L287.35 175.08L288.01 174.69L288.68 174.31L289.35 173.93L290.02 173.54L290.69 173.16L291.36 172.79L292.03 172.41L292.70 172.03L293.37 171.66L294.04 171.28L294.70 170.91L295.37 170.54L296.04 170.17L296.71 169.80L297.38 169.43L298.05 169.07L298.72 168.70L299.39 168.34L300.06 167.98L300.73 167.62L301.39 167.26L302.06 166.91L302.73 166.55L303.40 166.20L304.07 165.85L304.74 165.50L305.41 165.15L306.08 164.81L306.75 164.46L307.42 164.12L308.09 163.78L308.75 163.45L309.42 163.11L310.09 162.78L310.76 162.44L311.43 162.11L312.10 161.79L312.77 161.46L313.44 161.14L314.11 160.81L314.78 160.49L315.44 160.18L316.11 159.86L316.78 159.55L317.45 159.24L318.12 158.93L318.79 158.62L319.46 158.32L320.13 158.02L320.80 157.72L321.47 157.42L322.13 157.13L322.80 156.84L323.47 156.55L324.14 156.26L324.81 155.98L325.48 155.69L326.15 155.42L326.82 155.14L327.49 154.86L328.16 154.59L328.82 154.32L329.49 154.06L330.16 153.79L330.83 153.53L331.50 153.27L332.17 153.02L332.84 152.77L333.51 152.52L334.18 152.27L334.85 152.02L335.52 151.78L336.18 151.54L336.85 151.31L337.52 151.07L338.19 150.84L338.86 150.62L339.53 150.39L340.20 150.17L340.87 149.95L341.54 149.74L342.21 149.52L342.87 149.31L343.54 149.11L344.21 148.90L344.88 148.70L345.55 148.51L346.22 148.31L346.89 148.12L347.56 147.93L348.23 147.75L348.90 147.56L349.56 147.39L350.23 147.21L350.90 147.04L351.57 146.87L352.24 146.70L352.91 146.54L353.58 146.38L354.25 146.22L354.92 146.07L355.59 145.92L356.25 145.78L356.92 145.63L357.59 145.49L358.26 145.36L358.93 145.22L359.60 145.09L360.27 144.97L360.94 144.84L361.61 144.72L362.28 144.61L362.95 144.49L363.61 144.38L364.28 144.28L364.95 144.17L365.62 144.08L366.29 143.98L366.96 143.89L367.63 143.80L368.30 143.71L368.97 143.63L369.64 143.55L370.30 143.48L370.97 143.40L371.64 143.33L372.31 143.27L372.98 143.21L373.65 143.15L374.32 143.10L374.99 143.05L375.66 143.00L376.33 142.95L376.99 142.91L377.66 142.88L378.33 142.84L379.00 142.81L379.67 142.79L380.34 142.76L381.01 142.74L381.68 142.73L382.35 142.72L383.02 142.71L383.69 142.70L384.35 142.70L385.02 142.70L385.69 142.71L386.36 142.72L387.03 142.73L387.70 142.74L388.37 142.76L389.04 142.79L389.71 142.81L390.38 142.84L391.04 142.88L391.71 142.91L392.38 142.95L393.05 143.00L393.72 143.05L394.39 143.10L395.06 143.15L395.73 143.21L396.40 143.27L397.07 143.33L397.73 143.40L398.40 143.48L399.07 143.55L399.74 143.63L400.41 143.71L401.08 143.80L401.75 143.89L402.42 143.98L403.09 144.08L403.76 144.17L404.43 144.28L405.09 144.38L405.76 144.49L406.43 144.61L407.10 144.72L407.77 144.84L408.44 144.97L409.11 145.09L409.78 145.22L410.45 145.36L411.12 145.49L411.78 145.63L412.45 145.78L413.12 145.92L413.79 146.07L414.46 146.22L415.13 146.38L415.80 146.54L416.47 146.70L417.14 146.87L417.81 147.04L418.47 147.21L419.14 147.39L419.81 147.56L420.48 147.75L421.15 147.93L421.82 148.12L422.49 148.31L423.16 148.51L423.83 148.70L424.50 148.90L425.16 149.11L425.83 149.31L426.50 149.52L427.17 149.74L427.84 149.95L428.51 150.17L429.18 150.39L429.85 150.62L430.52 150.84L431.19 151.07L431.86 151.31L432.52 151.54L433.19 151.78L433.86 152.02L434.53 152.27L435.20 152.52L435.87 152.77L436.54 153.02L437.21 153.27L437.88 153.53L438.55 153.79L439.21 154.06L439.88 154.32L440.55 154.59L441.22 154.86L441.89 155.14L442.56 155.42L443.23 155.69L443.90 155.98L444.57 156.26L445.24 156.55L445.90 156.84L446.57 157.13L447.24 157.42L447.91 157.72L448.58 158.02L449.25 158.32L449.92 158.62L450.59 158.93L451.26 159.24L451.93 159.55L452.60 159.86L453.26 160.18L453.93 160.49L454.60 160.81L455.27 161.14L455.94 161.46L456.61 161.79L457.28 162.11L457.95 162.44L458.62 162.78L459.29 163.11L459.95 163.45L460.62 163.78L461.29 164.12L461.96 164.46L462.63 164.81L463.30 165.15L463.97 165.50L464.64 165.85L465.31 166.20L465.98 166.55L466.64 166.91L467.31 167.26L467.98 167.62L468.65 167.98L469.32 168.34L469.99 168.70L470.66 169.07L471.33 169.43L472.00 169.80L472.67 170.17L473.33 170.54L474.00 170.91L474.67 171.28L475.34 171.66L476.01 172.03L476.68 172.41L477.35 172.79L478.02 173.16L478.69 173.54L479.36 173.93L480.03 174.31L480.69 174.69L481.36 175.08L482.03 175.46L482.70 175.85L483.37 176.24L484.04 176.63L484.71 177.02L485.38 177.41L486.05 177.80L486.72 178.19L487.38 178.58L488.05 178.98L488.72 179.37L489.39 179.77L490.06 180.17L490.73 180.56L491.40 180.96L492.07 181.36L492.74 181.76L493.41 182.16L494.07 182.56L494.74 182.96L495.41 183.36L496.08 183.76L496.75 184.16L497.42 184.56L498.09 184.96L498.76 185.37L499.43 185.77L500.10 186.17L500.76 186.58L501.43 186.98L502.10 187.38L502.77 187.79L503.44 188.19L504.11 188.60L504.78 189.00L505.45 189.40L506.12 189.81L506.79 190.21L507.46 190.62L508.12 191.02L508.79 191.42L509.46 191.83L510.13 192.23L510.80 192.63L511.47 193.04L512.14 193.44L512.81 193.84L513.48 194.24L514.15 194.64L514.81 195.04L515.48 195.44L516.15 195.84L516.82 196.24L517.49 196.64L518.16 197.04L518.83 197.44L519.50 197.83L520.17 198.23L520.84 198.63L521.50 199.02L522.17 199.42L522.84 199.81L523.51 200.20L524.18 200.59L524.85 200.98" stroke="#EDB120"/>
<path d="M43.15 189.00L43.83 189.00L44.50 189.00L45.18 189.00L45.86 189.00L46.54 189.00L47.21 189.00L47.89 189.00L48.57 189.00L49.24 189.00L49.92 189.00L50.60 189.00L51.27 189.00L51.95 189.00L52.63 189.00L53.31 189.00L53.98 189.00L54.66 189.00L55.34 189.00L56.01 189.00L56.69 189.00L57.37 189.00L58.04 189.00L58.72 189.00L59.40 189.00L60.08 189.00L60.75 189.00L61.43 189.00L62.11 189.00L62.78 189.00L63.46 189.00L64.14 189.00L64.81 189.00L65.49 189.00L66.17 189.00L66.85 189.00L67.52 189.00L68.20 189.00L68.88 189.00L69.55 189.00L70.23 189.00L70.91 189.00L71.58 189.00L72.26 189.00L72.94 189.00L73.62 189.00L74.29 189.00L74.97 189.00L75.65 189.00L76.32 189.00L77.00 189.00L77.68 189.00L78.35 189.00L79.03 189.00L79.71 189.00L80.39 189.00L81.06 189.00L81.74 189.00L82.42 189.00L83.09 189.00L83.77 189.00L84.45 189.00L85.13 189.00L85.80 189.00L86.48 189.00L87.16 189.00L87.83 189.00L88.51 189.00L88.51 189.00L89.19 187.91L89.86 186.81L90.54 185.72L91.21 184.62L91.89 183.53L92.56 182.43L93.24 181.34L93.91 180.25L94.59 179.15L95.26 178.06L95.94 176.96L96.61 175.87L97.29 174.77L97.96 173.68L98.64 172.58L99.31 171.49L99.99 170.40L100.66 169.30L101.34 168.21L102.01 167.11L102.69 166.02L103.36 164.92L103.36 189.00L104.04 189.00L104.71 189.00L105.39 189.00L106.06 189.00L106.74 189.00L107.41 189.00L108.08 189.00L108.76 189.00L109.43 189.00L110.11 189.00L110.78 189.00L111.46 189.00L112.13 189.00L112.81 189.00L113.48 189.00L114.16 189.00L114.83 189.00L115.50 189.00L116.18 189.00L116.85 189.00L117.53 189.00L118.20 189.00L118.88 189.00L119.55 189.00L120.23 189.00L120.90 189.00L121.58 189.00L122.25 189.00L122.92 189.00L123.60 189.00L124.27 189.00L124.95 189.00L125.62 189.00L126.30 189.00L126.97 189.00L127.65 189.00L128.32 189.00L129.00 189.00L129.67 189.00L130.34 189.00L131.02 189.00L131.69 189.00L132.37 189.00L133.04 189.00L133.72 189.00L134.39 189.00L135.07 189.00L135.74 189.00L136.42 189.00L137.09 189.00L137.76 189.00L138.44 189.00L139.11 189.00L139.79 189.00L140.46 189.00L141.14 189.00L141.81 189.00L142.49 189.00L143.16 189.00L143.84 189.00L144.51 189.00L145.18 189.00L145.86 189.00L146.53 189.00L147.21 189.00L147.88 189.00L148.56 189.00L149.23 189.00L149.91 189.00L150.58 189.00L151.26 189.00L151.93 189.00L152.60 189.00L153.28 189.00L153.95 189.00L154.63 189.00L155.30 189.00L155.98 189.00L156.65 189.00L157.33 189.00L158.00 189.00L158.68 189.00L159.35 189.00L160.02 189.00L160.70 189.00L161.37 189.00L162.05 189.00L162.72 189.00L163.40 189.00L164.07 189.00L164.75 189.00L165.42 189.00L166.10 189.00L166.77 189.00L167.44 189.00L168.12 189.00L168.79 189.00L168.79 189.00L169.47 190.09L170.14 191.19L170.82 192.28L171.49 193.38L172.17 194.47L172.84 195.57L173.52 196.66L174.19 197.75L174.87 198.85L175.54 199.94L176.22 201.04L176.89 202.13L177.57 203.23L178.24 204.32L178.92 205.42L179.60 206.51L180.27 207.60L180.95 208.70L181.62 209.79L182.30 210.89L182.97 211.98L183.65 213.08L183.65 189.00L184.32 189.00L184.99 189.00L185.67 189.00L186.34 189.00L187.02 189.00L187.69 189.00L188.37 189.00L189.04 189.00L189.72 189.00L190.39 189.00L191.07 189.00L191.74 189.00L192.41 189.00L193.09 189.00L193.76 189.00L194.44 189.00L195.11 189.00L195.79 189.00L196.46 189.00L197.14 189.00L197.81 189.00L198.49 189.00L199.16 189.00L199.83 189.00L200.51 189.00L201.18 189.00L201.86 189.00L202.53 189.00L203.21 189.00L203.88 189.00L204.56 189.00L205.23 189.00L205.91 189.00L206.58 189.00L207.25 189.00L207.93 189.00L208.60 189.00L209.28 189.00L209.95 189.00L210.63 189.00L211.30 189.00L211.98 189.00L212.65 189.00L213.33 189.00L214.00 189.00L214.67 189.00L215.35 189.00L216.02 189.00L216.70 189.00L217.37 189.00L218.05 189.00L218.72 189.00L219.40 189.00L220.07 189.00L220.75 189.00L221.42 189.00L222.09 189.00L222.77 189.00L223.44 189.00L224.12 189.00L224.79 189.00L225.47 189.00L226.14 189.00L226.82 189.00L227.49 189.00L228.17 189.00L228.84 189.00L229.51 189.00L230.19 189.00L230.86 189.00L231.54 189.00L232.21 189.00L232.89 189.00L233.56 189.00L234.24 189.00L234.91 189.00L235.59 189.00L236.26 189.00L236.93 189.00L237.61 189.00L238.28 189.00L238.96 189.00L239.63 189.00L240.31 189.00L240.98 189.00L241.66 189.00L242.33 189.00L243.01 189.00L243.68 189.00L244.35 189.00L245.03 189.00L245.70 189.00L246.38 189.00L247.05 189.00L247.73 189.00L248.40 189.00L249.08 189.00L249.08 189.00L249.75 187.91L250.43 186.81L251.10 185.72L251.78 184.62L252.45 183.53L253.13 182.43L253.80 181.34L254.48 180.25L255.15 179.15L255.83 178.06L256.50 176.96L257.18 175.87L257.85 174.77L258.53 173.68L259.20 172.58L259.88 171.49L260.55 170.40L261.23 169.30L261.90 168.21L262.58 167.11L263.25 166.02L263.93 164.92L263.93 189.00L264.60 189.00L265.28 189.00L265.95 189.00L266.63 189.00L267.30 189.00L267.98 189.00L268.65 189.00L269.33 189.00L270.00 189.00L270.67 189.00L271.35 189.00L272.02 189.00L272.70 189.00L273.37 189.00L274.05 189.00L274.72 189.00L275.40 189.00L276.07 189.00L276.75 189.00L277.42 189.00L278.09 189.00L278.77 189.00L279.44 189.00L280.12 189.00L280.79 189.00L281.47 189.00L282.14 189.00L282.82 189.00L283.49 189.00L284.17 189.00L284.84 189.00L285.51 189.00L286.19 189.00L286.86 189.00L287.54 189.00L288.21 189.00L288.89 189.00L289.56 189.00L290.24 189.00L290.91 189.00L291.59 189.00L292.26 189.00L292.93 189.00L293.61 189.00L294.28 189.00L294.96 189.00L295.63 189.00L296.31 189.00L296.98 189.00L297.66 189.00L298.33 189.00L299.01 189.00L299.68 189.00L300.35 189.00L301.03 189.00L301.70 189.00L302.38 189.00L303.05 189.00L303.73 189.00L304.40 189.00L305.08 189.00L305.75 189.00L306.43 189.00L307.10 189.00L307.77 189.00L308.45 189.00L309.12 189.00L309.80 189.00L310.47 189.00L311.15 189.00L311.82 189.00L312.50 189.00L313.17 189.00L313.85 189.00L314.52 189.00L315.19 189.00L315.87 189.00L316.54 189.00L317.22 189.00L317.89 189.00L318.57 189.00L319.24 189.00L319.92 189.00L320.59 189.00L321.27 189.00L321.94 189.00L322.61 189.00L323.29 189.00L323.96 189.00L324.64 189.00L325.31 189.00L325.99 189.00L326.66 189.00L327.34 189.00L328.01 189.00L328.69 189.00L329.36 189.00L329.36 189.00L330.04 190.09L330.71 191.19L331.39 192.28L332.06 193.38L332.74 194.47L333.41 195.57L334.09 196.66L334.76 197.75L335.44 198.85L336.11 199.94L336.79 201.04L337.46 202.13L338.14 203.23L338.81 204.32L339.49 205.42L340.16 206.51L340.84 207.60L341.51 208.70L342.19 209.79L342.86 210.89L343.54 211.98L344.21 213.08L344.21 189.00L344.89 189.00L345.56 189.00L346.24 189.00L346.91 189.00L347.59 189.00L348.26 189.00L348.93 189.00L349.61 189.00L350.28 189.00L350.96 189.00L351.63 189.00L352.31 189.00L352.98 189.00L353.66 189.00L354.33 189.00L355.01 189.00L355.68 189.00L356.35 189.00L357.03 189.00L357.70 189.00L358.38 189.00L359.05 189.00L359.73 189.00L360.40 189.00L361.08 189.00L361.75 189.00L362.43 189.00L363.10 189.00L363.77 189.00L364.45 189.00L365.12 189.00L365.80 189.00L366.47 189.00L367.15 189.00L367.82 189.00L368.50 189.00L369.17 189.00L369.85 189.00L370.52 189.00L371.19 189.00L371.87 189.00L372.54 189.00L373.22 189.00L373.89 189.00L374.57 189.00L375.24 189.00L375.92 189.00L376.59 189.00L377.27 189.00L377.94 189.00L378.61 189.00L379.29 189.00L379.96 189.00L380.64 189.00L381.31 189.00L381.99 189.00L382.66 189.00L383.34 189.00L384.01 189.00L384.69 189.00L385.36 189.00L386.03 189.00L386.71 189.00L387.38 189.00L388.06 189.00L388.73 189.00L389.41 189.00L390.08 189.00L390.76 189.00L391.43 189.00L392.11 189.00L392.78 189.00L393.45 189.00L394.13 189.00L394.80 189.00L395.48 189.00L396.15 189.00L396.83 189.00L397.50 189.00L398.18 189.00L398.85 189.00L399.53 189.00L400.20 189.00L400.87 189.00L401.55 189.00L402.22 189.00L402.90 189.00L403.57 189.00L404.25 189.00L404.92 189.00L405.60 189.00L406.27 189.00L406.95 189.00L407.62 189.00L408.29 189.00L408.97 189.00L409.64 189.00L409.64 189.00L410.32 187.91L410.99 186.81L411.67 185.72L412.34 184.62L413.02 183.53L413.69 182.43L414.37 181.34L415.04 180.25L415.72 179.15L416.39 178.06L417.07 176.96L417.74 175.87L418.42 174.77L419.09 173.68L419.77 172.58L420.45 171.49L421.12 170.40L421.80 169.30L422.47 168.21L423.15 167.11L423.82 166.02L424.50 164.92L424.50 189.00L425.17 189.00L425.84 189.00L426.52 189.00L427.19 189.00L427.87 189.00L428.54 189.00L429.22 189.00L429.89 189.00L430.57 189.00L431.24 189.00L431.92 189.00L432.59 189.00L433.26 189.00L433.94 189.00L434.61 189.00L435.29 189.00L435.96 189.00L436.64 189.00L437.31 189.00L437.99 189.00L438.66 189.00L439.34 189.00L440.01 189.00L440.68 189.00L441.36 189.00L442.03 189.00L442.71 189.00L443.38 189.00L444.06 189.00L444.73 189.00L445.41 189.00L446.08 189.00L446.76 189.00L447.43 189.00L448.10 189.00L448.78 189.00L449.45 189.00L450.13 189.00L450.80 189.00L451.48 189.00L452.15 189.00L452.83 189.00L453.50 189.00L454.18 189.00L454.85 189.00L455.52 189.00L456.20 189.00L456.87 189.00L457.55 189.00L458.22 189.00L458.90 189.00L459.57 189.00L460.25 189.00L460.92 189.00L461.60 189.00L462.27 189.00L462.94 189.00L463.62 189.00L464.29 189.00L464.97 189.00L465.64 189.00L466.32 189.00L466.99 189.00L467.67 189.00L468.34 189.00L469.02 189.00L469.69 189.00L470.36 189.00L471.04 189.00L471.71 189.00L472.39 189.00L473.06 189.00L473.74 189.00L474.41 189.00L475.09 189.00L475.76 189.00L476.44 189.00L477.11 189.00L477.78 189.00L478.46 189.00L479.13 189.00L479.81 189.00L480.48 189.00L481.16 189.00L481.83 189.00L482.51 189.00L483.18 189.00L483.86 189.00L484.53 189.00L485.20 189.00L485.88 189.00L486.55 189.00L487.23 189.00L487.90 189.00L488.58 189.00L489.25 189.00L489.93 189.00L489.93 189.00L490.60 190.09L491.28 191.19L491.95 192.28L492.63 193.38L493.30 194.47L493.98 195.57L494.65 196.66L495.33 197.75L496.00 198.85L496.68 199.94L497.35 201.04L498.03 202.13L498.70 203.23L499.38 204.32L500.05 205.42L500.73 206.51L501.40 207.60L502.08 208.70L502.75 209.79L503.43 210.89L504.10 211.98L504.78 213.08L504.78 189.00L505.45 189.00L506.12 189.00L506.79 189.00L507.46 189.00L508.12 189.00L508.79 189.00L509.46 189.00L510.13 189.00L510.80 189.00L511.47 189.00L512.14 189.00L512.81 189.00L513.48 189.00L514.15 189.00L514.81 189.00L515.48 189.00L516.15 189.00L516.82 189.00L517.49 189.00L518.16 189.00L518.83 189.00L519.50 189.00L520.17 189.00L520.84 189.00L521.50 189.00L522.17 189.00L522.84 189.00L523.51 189.00L524.18 189.00L524.85 189.00" stroke="#000" stroke-width="1.8"/>
</g>
<line x1="123.43" y1="138.50" x2="123.43" y2="143.10" stroke="#3c3c3c" stroke-width="1"/>
<line x1="123.43" y1="239.35" x2="123.43" y2="234.75" stroke="#3c3c3c" stroke-width="1"/>
<line x1="203.72" y1="138.50" x2="203.72" y2="143.10" stroke="#3c3c3c" stroke-width="1"/>
<line x1="203.72" y1="239.35" x2="203.72" y2="234.75" stroke="#3c3c3c" stroke-width="1"/>
<line x1="284.00" y1="138.50" x2="284.00" y2="143.10" stroke="#3c3c3c" stroke-width="1"/>
<line x1="284.00" y1="239.35" x2="284.00" y2="234.75" stroke="#3c3c3c" stroke-width="1"/>
<line x1="364.28" y1="138.50" x2="364.28" y2="143.10" stroke="#3c3c3c" stroke-width="1"/>
<line x1="364.28" y1="239.35" x2="364.28" y2="234.75" stroke="#3c3c3c" stroke-width="1"/>
<line x1="444.57" y1="138.50" x2="444.57" y2="143.10" stroke="#3c3c3c" stroke-width="1"/>
<line x1="444.57" y1="239.35" x2="444.57" y2="234.75" stroke="#3c3c3c" stroke-width="1"/>
<line x1="42.90" y1="142.70" x2="47.50" y2="142.70" stroke="#3c3c3c" stroke-width="1"/>
<line x1="524.60" y1="142.70" x2="520.00" y2="142.70" stroke="#3c3c3c" stroke-width="1"/>
<line x1="42.90" y1="189.00" x2="47.50" y2="189.00" stroke="#3c3c3c" stroke-width="1"/>
<line x1="524.60" y1="189.00" x2="520.00" y2="189.00" stroke="#3c3c3c" stroke-width="1"/>
<line x1="42.90" y1="235.30" x2="47.50" y2="235.30" stroke="#3c3c3c" stroke-width="1"/>
<line x1="524.60" y1="235.30" x2="520.00" y2="235.30" stroke="#3c3c3c" stroke-width="1"/>
<rect x="42.90" y="138.50" width="481.70" height="100.85" fill="none" stroke="#3c3c3c" stroke-width="1.25"/>
<line x1="70.00" y1="7.0" x2="82.29" y2="7.0" stroke="#222" stroke-width="1.2"/>
<line x1="89.51" y1="7.0" x2="101.00" y2="7.0" stroke="#222" stroke-width="1.2"/>
<path d="M83.29 7.0 L78.49 5.2 Q77.09 7.0 78.49 8.8 Z" fill="#000"/>
<path d="M88.51 7.0 L93.31 5.2 Q94.71 7.0 93.31 8.8 Z" fill="#000"/>
<line x1="70.80" y1="132.5" x2="116.00" y2="132.5" stroke="#222" stroke-width="0.9"/>
<path d="M83.29 132.5 L78.49 130.7 Q77.09 132.5 78.49 134.3 Z" fill="#000"/>
<path d="M103.36 132.5 L108.16 130.7 Q109.56 132.5 108.16 134.3 Z" fill="#000"/>
<circle cx="88.51" cy="68.73" r="2.1" fill="#fff" stroke="#000" stroke-width="1.1"/>
<circle cx="103.36" cy="189.00" r="2.1" fill="#fff" stroke="#000" stroke-width="1.1"/>
<text x="21.30" y="25.10" font-family="Liberation Serif, serif" font-size="15" text-anchor="end" stroke="#000" stroke-width="0.2" >+</text>
<line x1="23" y1="20.9" x2="39.4" y2="20.9" stroke="#000" stroke-width="0.75"/>
<text x="23.00" y="16.40" font-family="Liberation Serif, serif" font-size="13.5" text-anchor="start" font-style="italic" stroke="#000" stroke-width="0.3" >V</text>
<text x="30.40" y="17.80" font-family="Liberation Serif, serif" font-size="8.6" text-anchor="start" stroke="#000" stroke-width="0.2" textLength="8.2" lengthAdjust="spacingAndGlyphs">dc</text>
<text x="31.20" y="32.00" font-family="Liberation Serif, serif" font-size="13.5" text-anchor="middle" stroke="#000" stroke-width="0.5" >2</text>
<text x="37.75" y="68.90" font-family="Liberation Serif, serif" font-size="13.5" text-anchor="middle" stroke="#000" stroke-width="0.3" textLength="5.6" lengthAdjust="spacingAndGlyphs">0</text>
<text x="20.90" y="117.60" font-family="Liberation Serif, serif" font-size="15" text-anchor="end" stroke="#000" stroke-width="0.2" >&#8722;</text>
<line x1="23" y1="113.3" x2="39.4" y2="113.3" stroke="#000" stroke-width="0.75"/>
<text x="23.20" y="109.30" font-family="Liberation Serif, serif" font-size="13.5" text-anchor="start" font-style="italic" stroke="#000" stroke-width="0.3" >V</text>
<text x="30.40" y="110.20" font-family="Liberation Serif, serif" font-size="8.6" text-anchor="start" stroke="#000" stroke-width="0.2" textLength="8.2" lengthAdjust="spacingAndGlyphs">dc</text>
<text x="31.20" y="124.50" font-family="Liberation Serif, serif" font-size="13.5" text-anchor="middle" stroke="#000" stroke-width="0.5" >2</text>
<text x="34.40" y="146.60" font-family="Liberation Serif, serif" font-size="15" text-anchor="end" stroke="#000" stroke-width="0.2" >+</text>
<text x="35.20" y="145.60" font-family="Liberation Serif, serif" font-size="13.5" text-anchor="start" font-style="italic" stroke="#000" stroke-width="0.3" >I</text>
<text x="37.60" y="192.20" font-family="Liberation Serif, serif" font-size="13.5" text-anchor="middle" stroke="#000" stroke-width="0.3" textLength="5.6" lengthAdjust="spacingAndGlyphs">0</text>
<text x="34.20" y="239.20" font-family="Liberation Serif, serif" font-size="15" text-anchor="end" stroke="#000" stroke-width="0.2" >&#8722;</text>
<text x="35.50" y="238.20" font-family="Liberation Serif, serif" font-size="13.5" text-anchor="start" font-style="italic" stroke="#000" stroke-width="0.3" >I</text>
<text x="43.05" y="252.50" font-family="Liberation Serif, serif" font-size="12.3" text-anchor="middle" stroke="#000" stroke-width="0.35" textLength="5.8" lengthAdjust="spacingAndGlyphs">0</text>
<text x="123.63" y="252.50" font-family="Liberation Serif, serif" font-size="12.3" text-anchor="middle" stroke="#000" stroke-width="0.35"><tspan>π</tspan><tspan font-size="16.5" dx="0.9" dy="2.6">/</tspan><tspan dx="0.7" dy="-2.6">3</tspan></text>
<text x="203.92" y="252.50" font-family="Liberation Serif, serif" font-size="12.3" text-anchor="middle" stroke="#000" stroke-width="0.35"><tspan>2</tspan><tspan>π</tspan><tspan font-size="16.5" dx="0.9" dy="2.6">/</tspan><tspan dx="0.7" dy="-2.6">3</tspan></text>
<text x="284.20" y="252.50" font-family="Liberation Serif, serif" font-size="12.3" text-anchor="middle" stroke="#000" stroke-width="0.35"><tspan>π</tspan></text>
<text x="364.48" y="252.50" font-family="Liberation Serif, serif" font-size="12.3" text-anchor="middle" stroke="#000" stroke-width="0.35"><tspan>4</tspan><tspan>π</tspan><tspan font-size="16.5" dx="0.9" dy="2.6">/</tspan><tspan dx="0.7" dy="-2.6">3</tspan></text>
<text x="444.77" y="252.50" font-family="Liberation Serif, serif" font-size="12.3" text-anchor="middle" stroke="#000" stroke-width="0.35"><tspan>5</tspan><tspan>π</tspan><tspan font-size="16.5" dx="0.9" dy="2.6">/</tspan><tspan dx="0.7" dy="-2.6">3</tspan></text>
<text x="525.05" y="252.50" font-family="Liberation Serif, serif" font-size="12.3" text-anchor="middle" stroke="#000" stroke-width="0.35"><tspan>2</tspan><tspan>π</tspan></text>
<text x="93.30" y="264.90" font-family="Liberation Serif, serif" font-size="12.3" text-anchor="middle" stroke="#000" stroke-width="0.35"><tspan>π</tspan><tspan font-size="16.5" dx="0.9" dy="2.6">/</tspan><tspan dx="0.7" dy="-2.6">6</tspan></text>
<text x="284.20" y="266.70" font-family="Liberation Serif, serif" font-size="13.5" text-anchor="middle" stroke="#000" stroke-width="0.3" >Phase Angle (rad)</text>
<text x="0.00" y="0.00" font-family="Liberation Serif, serif" font-size="13.3" text-anchor="middle" stroke="#000" stroke-width="0.15" transform="translate(12.8 66.3) rotate(-90)">Voltage (V)</text>
<text x="0.00" y="0.00" font-family="Liberation Serif, serif" font-size="13.5" text-anchor="middle" stroke="#000" stroke-width="0.15" transform="translate(12.8 188.9) rotate(-90)">Current (A)</text>
<text x="539.40" y="68.00" font-family="Liberation Serif, serif" font-size="11" text-anchor="middle" stroke="#000" stroke-width="0.15" >(<tspan font-weight="bold" font-size="12.5">a</tspan>)</text>
<text x="539.40" y="190.60" font-family="Liberation Serif, serif" font-size="11" text-anchor="middle" stroke="#000" stroke-width="0.15" >(<tspan font-weight="bold" font-size="12.5">b</tspan>)</text>
<text x="104.90" y="10.60" font-family="Liberation Serif, serif" font-size="16.5" text-anchor="start" font-style="italic" stroke="#000" stroke-width="0.1" >ε</text>
<text x="119.60" y="132.40" font-family="Liberation Serif, serif" font-size="13.5" text-anchor="start" font-style="italic" stroke="#000" stroke-width="0.3" >φ</text>
<text x="236.50" y="91.40" font-family="Liberation Serif, serif" font-size="13.5" text-anchor="start" font-style="italic" stroke="#000" stroke-width="0.3" >v</text>
<text x="242.20" y="95.90" font-family="Liberation Serif, serif" font-size="8.5" text-anchor="start" stroke="#000" stroke-width="0.3" >o</text>
<text x="216.60" y="174.90" font-family="Liberation Serif, serif" font-size="15" text-anchor="start" font-style="italic" stroke="#000" stroke-width="0.45" >i</text>
<text x="220.80" y="180.40" font-family="Liberation Serif, serif" font-size="9" text-anchor="start" stroke="#000" stroke-width="0.3" textLength="7.4" lengthAdjust="spacingAndGlyphs">m</text>
<text x="286.90" y="218.60" font-family="Liberation Serif, serif" font-size="14" text-anchor="start" font-style="italic" stroke="#000" stroke-width="0.3" >ΔQ</text>
<text x="306.40" y="222.40" font-family="Liberation Serif, serif" font-size="8.5" text-anchor="start" stroke="#000" stroke-width="0.3" textLength="35.6" lengthAdjust="spacingAndGlyphs">m,pp,min</text>
<path d="M245.5 86.4 L248.3 81.9 Q249.6 80.3 250.6 82.1 Q251.6 83.9 252.7 80.9 L254.3 76.2" fill="none" stroke="#111" stroke-width="1.05" stroke-linejoin="round" stroke-linecap="round"/>
<path d="M231.3 176.4 L236.2 178.3 Q238.0 179.0 238.4 177.6 Q238.8 176.2 240.6 177.2 L247.7 180.8" fill="none" stroke="#111" stroke-width="1.05" stroke-linejoin="round" stroke-linecap="round"/>
<path d="M312.6 211.4 L325.3 205.0 Q326.2 204.3 325.0 204.0 L322.2 203.5 Q320.9 203.1 322.4 202.5 L338.3 196.8" fill="none" stroke="#111" stroke-width="1.05" stroke-linejoin="round" stroke-linecap="round"/>
<path d="M83.7 242.2 L85.0 246.5 L87.3 246.7 L89.2 251.4" fill="none" stroke="#111" stroke-width="1.05" stroke-linejoin="round" stroke-linecap="round"/>
<rect x="206.50" y="18.40" width="155.00" height="16.80" fill="#fff" stroke="#3a3a3a" stroke-width="1" rx="0.8"/>
<line x1="210.5" y1="27.2" x2="233.4" y2="27.2" stroke="#0072BD" stroke-width="1.6"/>
<text x="238.00" y="29.40" font-family="Liberation Serif, serif" font-size="11" text-anchor="start" font-style="italic" stroke="#000" stroke-width="0.15" textLength="5.4" lengthAdjust="spacingAndGlyphs">v</text>
<text x="243.70" y="31.30" font-family="Liberation Serif, serif" font-size="7.6" text-anchor="start" stroke="#000" stroke-width="0.2" textLength="10.6" lengthAdjust="spacingAndGlyphs">am</text>
<line x1="263.2" y1="27.2" x2="285" y2="27.2" stroke="#D95319" stroke-width="1.6"/>
<text x="291.20" y="29.40" font-family="Liberation Serif, serif" font-size="11" text-anchor="start" font-style="italic" stroke="#000" stroke-width="0.15" textLength="5.4" lengthAdjust="spacingAndGlyphs">v</text>
<text x="296.90" y="31.30" font-family="Liberation Serif, serif" font-size="7.6" text-anchor="start" stroke="#000" stroke-width="0.2" textLength="10.6" lengthAdjust="spacingAndGlyphs">bm</text>
<line x1="315.5" y1="27.2" x2="337.8" y2="27.2" stroke="#EDB120" stroke-width="1.6"/>
<text x="343.00" y="29.40" font-family="Liberation Serif, serif" font-size="11" text-anchor="start" font-style="italic" stroke="#000" stroke-width="0.15" textLength="5.4" lengthAdjust="spacingAndGlyphs">v</text>
<text x="348.70" y="31.30" font-family="Liberation Serif, serif" font-size="7.6" text-anchor="start" stroke="#000" stroke-width="0.2" textLength="10.6" lengthAdjust="spacingAndGlyphs">cm</text>
<rect x="208.50" y="142.60" width="150.50" height="15.80" fill="#fff" stroke="#3a3a3a" stroke-width="1" rx="0.8"/>
<line x1="213" y1="150.5" x2="236" y2="150.5" stroke="#0072BD" stroke-width="1.6"/>
<text x="241.90" y="154.20" font-family="Liberation Serif, serif" font-size="12.5" text-anchor="start" font-style="italic" stroke="#000" stroke-width="0.45" >i</text>
<text x="246.20" y="155.40" font-family="Liberation Serif, serif" font-size="7.8" text-anchor="start" stroke="#000" stroke-width="0.2" >a</text>
<line x1="265.5" y1="150.5" x2="288" y2="150.5" stroke="#D95319" stroke-width="1.6"/>
<text x="294.60" y="154.20" font-family="Liberation Serif, serif" font-size="12.5" text-anchor="start" font-style="italic" stroke="#000" stroke-width="0.45" >i</text>
<text x="298.90" y="155.40" font-family="Liberation Serif, serif" font-size="7.8" text-anchor="start" stroke="#000" stroke-width="0.2" >b</text>
<line x1="318.2" y1="150.5" x2="340.5" y2="150.5" stroke="#EDB120" stroke-width="1.6"/>
<text x="347.40" y="154.20" font-family="Liberation Serif, serif" font-size="12.5" text-anchor="start" font-style="italic" stroke="#000" stroke-width="0.45" >i</text>
<text x="351.70" y="155.40" font-family="Liberation Serif, serif" font-size="7.8" text-anchor="start" stroke="#000" stroke-width="0.2" >c</text>
</svg>
</body></html>
